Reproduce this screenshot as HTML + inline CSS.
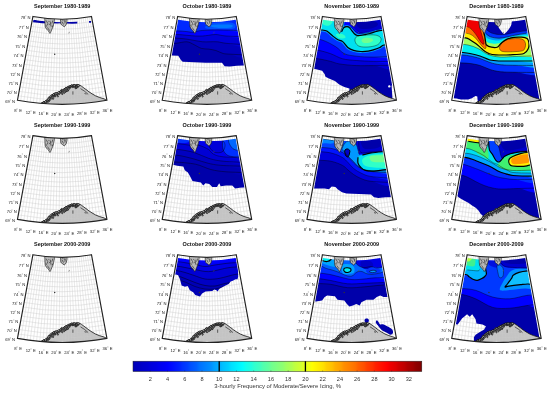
<!DOCTYPE html><html><head><meta charset="utf-8"><style>html,body{margin:0;padding:0;background:#fff;width:550px;height:394px;overflow:hidden}svg{display:block}text{font-family:"Liberation Sans",Arial,sans-serif}</style></head><body>
<svg width="550" height="394" viewBox="0 0 550 394">
<defs><clipPath id="fc"><path d="M32.92,16.52 A161.4 161.4 0 0 0 91.48,16.52 L106.92,100.21 A246.51 246.51 0 0 1 17.48,100.21 Z"/></clipPath><clipPath id="dc"><path d="M33.42,19.69 A164.43 164.43 0 0 0 90.98,19.69 L105.34,100.5 A246.51 246.51 0 0 1 19.06,100.5 Z"/></clipPath>
<g id="grd"><path d="M34.99,16.89L20.64,100.78M37.07,17.23L23.81,101.3M39.14,17.54L26.99,101.78M41.23,17.83L30.17,102.22M43.32,18.09L33.36,102.61M45.41,18.32L36.55,102.97M47.5,18.53L39.75,103.28M49.59,18.71L42.95,103.55M51.69,18.86L46.15,103.78M53.79,18.98L49.36,103.97M55.89,19.08L52.57,104.12M57.99,19.15L55.78,104.22M60.1,19.19L58.99,104.28M62.2,19.2L62.2,104.31M64.3,19.19L65.41,104.28M66.41,19.15L68.62,104.22M68.51,19.08L71.83,104.12M70.61,18.98L75.04,103.97M72.71,18.86L78.25,103.78M74.81,18.71L81.45,103.55M76.9,18.53L84.65,103.28M78.99,18.32L87.85,102.97M81.08,18.09L91.04,102.61M83.17,17.83L94.23,102.22M85.26,17.54L97.41,101.78M87.33,17.23L100.59,101.3M89.41,16.89L103.76,100.78M18.29,95.8A242.01 242.01 0 0 0 106.11,95.8M19.11,91.36A237.5 237.5 0 0 0 105.29,91.36M19.94,86.9A232.96 232.96 0 0 0 104.46,86.9M20.76,82.42A228.41 228.41 0 0 0 103.64,82.42M21.59,77.91A223.82 223.82 0 0 0 102.81,77.91M22.43,73.38A219.21 219.21 0 0 0 101.97,73.38M23.27,68.82A214.58 214.58 0 0 0 101.13,68.82M24.12,64.23A209.91 209.91 0 0 0 100.28,64.23M24.97,59.62A205.22 205.22 0 0 0 99.43,59.62M25.83,54.97A200.5 200.5 0 0 0 98.57,54.97M26.69,50.29A195.74 195.74 0 0 0 97.71,50.29M27.56,45.58A190.95 190.95 0 0 0 96.84,45.58M28.43,40.84A186.13 186.13 0 0 0 95.97,40.84M29.31,36.06A181.27 181.27 0 0 0 95.09,36.06M30.2,31.24A176.36 176.36 0 0 0 94.2,31.24M31.1,26.38A171.42 171.42 0 0 0 93.3,26.38M32.01,21.47A166.43 166.43 0 0 0 92.39,21.47" fill="none" stroke="#cbcbcb" stroke-width="0.42"/></g>
<g id="landf"><path d="M44.6,17 44.85,20.5 45,24 45.3,27 46.5,29 48.2,30.7 49.3,32.3 49.95,33.4 50.6,32.5 51.1,31.3 52,29 52.9,27 53.5,24.5 54.1,22 54.4,20.5 54.5,17Z" fill="#b2b2b2"/><path d="M60.5,17 60.55,21.3 60.9,24.2 62.7,25.6 64.15,26.8 64.9,26.4 66.3,24.2 67.05,21.3 67.1,17Z" fill="#b2b2b2"/><path d="M41.5,103.4 43.1,102.2 46,100.7 48.2,98.5 51.1,95.6 54,93.4 57.6,92.7 61.3,90.5 64.9,88.4 68.5,86.2 72.2,85 75.8,84.7 79.5,85 81.5,86.2 83.3,87.5 86,89.5 89,91.8 92,93.8 95.5,95.8 99.3,97.4 103,98.5 105.7,99.5 107.5,100.2 102,101.07 96.5,101.91 91,102.62 85.5,103.2 80,103.66 74.5,104 69,104.21 63.5,104.3 58,104.27 52.5,104.11 47,103.84 41.5,103.43Z" fill="#c4c4c4"/></g>
<clipPath id="lc"><path d="M44.6,17 44.85,20.5 45,24 45.3,27 46.5,29 48.2,30.7 49.3,32.3 49.95,33.4 50.6,32.5 51.1,31.3 52,29 52.9,27 53.5,24.5 54.1,22 54.4,20.5 54.5,17Z"/><path d="M60.5,17 60.55,21.3 60.9,24.2 62.7,25.6 64.15,26.8 64.9,26.4 66.3,24.2 67.05,21.3 67.1,17Z"/><path d="M41.5,103.4 43.1,102.2 46,100.7 48.2,98.5 51.1,95.6 54,93.4 57.6,92.7 61.3,90.5 64.9,88.4 68.5,86.2 72.2,85 75.8,84.7 79.5,85 81.5,86.2 83.3,87.5 86,89.5 89,91.8 92,93.8 95.5,95.8 99.3,97.4 103,98.5 105.7,99.5 107.5,100.2 102,101.07 96.5,101.91 91,102.62 85.5,103.2 80,103.66 74.5,104 69,104.21 63.5,104.3 58,104.27 52.5,104.11 47,103.84 41.5,103.43Z"/></clipPath>
<g id="coast" fill="none" stroke="#111" stroke-linejoin="round"><path d="M44.6,17 44.85,20.5 45,24 45.3,27 46.5,29 48.2,30.7 49.3,32.3 49.95,33.4 50.6,32.5 51.1,31.3 52,29 52.9,27 53.5,24.5 54.1,22 54.4,20.5 54.5,17" stroke-width="0.6"/><path d="M60.5,17 60.55,21.3 60.9,24.2 62.7,25.6 64.15,26.8 64.9,26.4 66.3,24.2 67.05,21.3 67.1,17" stroke-width="0.6"/><path d="M41.5,103.4 43.1,102.2 46,100.7 48.2,98.5 51.1,95.6 54,93.4 57.6,92.7 61.3,90.5 64.9,88.4 68.5,86.2 72.2,85 75.8,84.7 79.5,85 81.5,86.2 83.3,87.5 86,89.5 89,91.8 92,93.8 95.5,95.8 99.3,97.4 103,98.5 105.7,99.5 107.5,100.2" stroke-width="0.8"/><g stroke-width="0.75" stroke="#0a0a0a" fill="#d2d2d2"><ellipse cx="42.3" cy="103.25" rx="1.12" ry="0.75" transform="rotate(14 42.3 103.25)"/><ellipse cx="43.27" cy="104.18" rx="0.6" ry="0.59" transform="rotate(15 43.27 104.18)"/><ellipse cx="44.56" cy="105.34" rx="0.73" ry="0.54" transform="rotate(56 44.56 105.34)"/><ellipse cx="43.73" cy="102.2" rx="0.91" ry="0.72" transform="rotate(174 43.73 102.2)"/><ellipse cx="44.62" cy="103.56" rx="0.72" ry="0.42" transform="rotate(15 44.62 103.56)"/><ellipse cx="45.3" cy="104.73" rx="0.87" ry="0.53" transform="rotate(63 45.3 104.73)"/><ellipse cx="45.7" cy="101.78" rx="1.11" ry="0.95" transform="rotate(114 45.7 101.78)"/><ellipse cx="46.21" cy="103.02" rx="0.8" ry="0.45" transform="rotate(125 46.21 103.02)"/><ellipse cx="47.4" cy="100.77" rx="1.26" ry="0.74" transform="rotate(89 47.4 100.77)"/><ellipse cx="48.2" cy="101.53" rx="0.88" ry="0.57" transform="rotate(170 48.2 101.53)"/><ellipse cx="48.34" cy="99.59" rx="1.07" ry="0.89" transform="rotate(171 48.34 99.59)"/><ellipse cx="49.27" cy="100.58" rx="0.7" ry="0.48" transform="rotate(73 49.27 100.58)"/><ellipse cx="48.96" cy="98.15" rx="1.07" ry="0.82" transform="rotate(35 48.96 98.15)"/><ellipse cx="50.36" cy="99.27" rx="0.64" ry="0.71" transform="rotate(59 50.36 99.27)"/><ellipse cx="50.71" cy="96.67" rx="1.14" ry="0.71" transform="rotate(1 50.71 96.67)"/><ellipse cx="51.59" cy="97.68" rx="0.55" ry="0.7" transform="rotate(158 51.59 97.68)"/><ellipse cx="53.09" cy="98.67" rx="0.77" ry="0.6" transform="rotate(101 53.09 98.67)"/><ellipse cx="51.84" cy="95.53" rx="0.88" ry="0.68" transform="rotate(41 51.84 95.53)"/><ellipse cx="53.06" cy="96.61" rx="0.71" ry="0.73" transform="rotate(157 53.06 96.61)"/><ellipse cx="53.58" cy="94.62" rx="1.02" ry="0.75" transform="rotate(31 53.58 94.62)"/><ellipse cx="54.4" cy="95.46" rx="0.62" ry="0.45" transform="rotate(87 54.4 95.46)"/><ellipse cx="54.92" cy="96.43" rx="0.88" ry="0.53" transform="rotate(176 54.92 96.43)"/><ellipse cx="55.41" cy="93.88" rx="1.28" ry="0.88" transform="rotate(66 55.41 93.88)"/><ellipse cx="55.09" cy="95.33" rx="0.72" ry="0.58" transform="rotate(162 55.09 95.33)"/><ellipse cx="57.1" cy="93.67" rx="1.26" ry="0.9" transform="rotate(58 57.1 93.67)"/><ellipse cx="57.45" cy="94.74" rx="0.82" ry="0.57" transform="rotate(49 57.45 94.74)"/><ellipse cx="57.73" cy="96.18" rx="0.88" ry="0.53" transform="rotate(56 57.73 96.18)"/><ellipse cx="58.74" cy="92.54" rx="1.34" ry="0.84" transform="rotate(0 58.74 92.54)"/><ellipse cx="59.21" cy="93.86" rx="0.76" ry="0.72" transform="rotate(51 59.21 93.86)"/><ellipse cx="60.87" cy="91.47" rx="1.34" ry="0.76" transform="rotate(102 60.87 91.47)"/><ellipse cx="61.61" cy="92.47" rx="0.51" ry="0.61" transform="rotate(119 61.61 92.47)"/><ellipse cx="62.23" cy="93.96" rx="0.64" ry="0.59" transform="rotate(33 62.23 93.96)"/><ellipse cx="62.09" cy="90.33" rx="1.22" ry="0.66" transform="rotate(49 62.09 90.33)"/><ellipse cx="62.9" cy="91.47" rx="0.6" ry="0.61" transform="rotate(66 62.9 91.47)"/><ellipse cx="64.15" cy="92.78" rx="0.76" ry="0.69" transform="rotate(132 64.15 92.78)"/><ellipse cx="64.33" cy="89.45" rx="1.11" ry="0.61" transform="rotate(112 64.33 89.45)"/><ellipse cx="64.71" cy="90.62" rx="0.56" ry="0.62" transform="rotate(30 64.71 90.62)"/><ellipse cx="65.81" cy="91.63" rx="0.54" ry="0.6" transform="rotate(63 65.81 91.63)"/><ellipse cx="66.02" cy="88.27" rx="0.86" ry="0.96" transform="rotate(16 66.02 88.27)"/><ellipse cx="66.84" cy="89.53" rx="0.78" ry="0.56" transform="rotate(136 66.84 89.53)"/><ellipse cx="67.72" cy="90.51" rx="0.87" ry="0.72" transform="rotate(51 67.72 90.51)"/><ellipse cx="67.98" cy="87.45" rx="0.89" ry="0.7" transform="rotate(18 67.98 87.45)"/><ellipse cx="68.75" cy="88.27" rx="0.88" ry="0.63" transform="rotate(93 68.75 88.27)"/><ellipse cx="70.05" cy="86.7" rx="1.05" ry="0.79" transform="rotate(170 70.05 86.7)"/><ellipse cx="69.96" cy="87.51" rx="0.64" ry="0.47" transform="rotate(81 69.96 87.51)"/><ellipse cx="71.62" cy="85.85" rx="1.04" ry="0.81" transform="rotate(75 71.62 85.85)"/><ellipse cx="72.01" cy="86.86" rx="0.89" ry="0.44" transform="rotate(67 72.01 86.86)"/><ellipse cx="73.43" cy="85.78" rx="1.27" ry="0.87" transform="rotate(66 73.43 85.78)"/><ellipse cx="73.26" cy="86.84" rx="0.63" ry="0.5" transform="rotate(176 73.26 86.84)"/><ellipse cx="74.64" cy="85.62" rx="0.98" ry="0.84" transform="rotate(56 74.64 85.62)"/><ellipse cx="74.95" cy="86.89" rx="0.72" ry="0.72" transform="rotate(68 74.95 86.89)"/><ellipse cx="75.55" cy="88.13" rx="0.6" ry="0.46" transform="rotate(79 75.55 88.13)"/><ellipse cx="76.62" cy="85.49" rx="1.19" ry="0.71" transform="rotate(4 76.62 85.49)"/><ellipse cx="76.6" cy="86.39" rx="0.89" ry="0.58" transform="rotate(62 76.6 86.39)"/><ellipse cx="76.47" cy="87.82" rx="0.83" ry="0.54" transform="rotate(129 76.47 87.82)"/><ellipse cx="78.29" cy="85.48" rx="1.29" ry="0.89" transform="rotate(35 78.29 85.48)"/><ellipse cx="78.13" cy="86.73" rx="0.53" ry="0.66" transform="rotate(65 78.13 86.73)"/></g><path d="M46.2,20.5L47.8,23.5L47,25.5M50.3,21.5L51,26.5M47.5,27.5L49.5,30.5M52.8,20.5L51.8,23.5M62,21.5L63.5,24.5M65.3,20.5L64.8,23.5M48.5,21l1,1M45.8,25.5l1.2,1M49,25l1,-1.5M53,25.5l-1,1.5M61.5,19.5l1.5,0.8M64,20l0.5,1.5" stroke-width="0.6" stroke="#222"/><path d="M64.9,92.7L68,90.5L70.7,88.4M72.9,91.3L72.9,94.6M76.5,88L78,87.6M80.5,88.6L84.5,91.2L88.2,94.4M60,93.5l1.5,-0.8M56.5,95.5l1.2,-1M84.5,93.5l2,0.6" stroke-width="0.6"/><circle cx="54.7" cy="54.3" r="0.75" fill="#333" stroke="none"/><path d="M68.8,33.4L69.5,31.8" stroke="#555" stroke-width="0.6"/></g>
</defs>
<g transform="translate(0,0)">
<text x="62.2" y="7.7" text-anchor="middle" font-size="5.5" font-weight="bold" fill="#111">September 1980-1989</text>
<g clip-path="url(#fc)">
<use href="#grd"/>
<g clip-path="url(#dc)"><path d="M33,19.8 38,20.3 42,20.8 45.5,20.6 45.5,23.2 42,23.3 38,22.8 33,22.3Z" fill="#0000a8"/><path d="M53,21 57,21.2 61,21.5 61,23.3 57,23.5 53,23.2Z" fill="#0000a8"/><path d="M66.5,21.3 72,21.2 77.3,21 77.3,23.5 72,23.8 66.5,23.6Z" fill="#0000a8"/><path d="M89,21 91.2,21 91.2,22.8 89,22.8Z" fill="#0000a8"/></g>
<use href="#landf"/>
<g clip-path="url(#lc)"><use href="#grd"/></g>
<use href="#coast"/>
</g>
<path d="M32.92,16.52 A161.4 161.4 0 0 0 91.48,16.52 L106.92,100.21 A246.51 246.51 0 0 1 17.48,100.21 Z" fill="none" stroke="#222" stroke-width="1.15"/>
<g font-size="3.9" fill="#1a1a1a"><text x="15.08" y="102.61" text-anchor="end" font-size="4.15">69<tspan dy="-1.1" font-size="2.7">°</tspan><tspan dy="1.1"> N</tspan></text><text x="16.71" y="93.76" text-anchor="end" font-size="4.15">70<tspan dy="-1.1" font-size="2.7">°</tspan><tspan dy="1.1"> N</tspan></text><text x="18.36" y="84.82" text-anchor="end" font-size="4.15">71<tspan dy="-1.1" font-size="2.7">°</tspan><tspan dy="1.1"> N</tspan></text><text x="20.03" y="75.78" text-anchor="end" font-size="4.15">72<tspan dy="-1.1" font-size="2.7">°</tspan><tspan dy="1.1"> N</tspan></text><text x="21.72" y="66.63" text-anchor="end" font-size="4.15">73<tspan dy="-1.1" font-size="2.7">°</tspan><tspan dy="1.1"> N</tspan></text><text x="23.43" y="57.37" text-anchor="end" font-size="4.15">74<tspan dy="-1.1" font-size="2.7">°</tspan><tspan dy="1.1"> N</tspan></text><text x="25.16" y="47.98" text-anchor="end" font-size="4.15">75<tspan dy="-1.1" font-size="2.7">°</tspan><tspan dy="1.1"> N</tspan></text><text x="26.91" y="38.46" text-anchor="end" font-size="4.15">76<tspan dy="-1.1" font-size="2.7">°</tspan><tspan dy="1.1"> N</tspan></text><text x="28.7" y="28.78" text-anchor="end" font-size="4.15">77<tspan dy="-1.1" font-size="2.7">°</tspan><tspan dy="1.1"> N</tspan></text><text x="30.52" y="18.92" text-anchor="end" font-size="4.15">78<tspan dy="-1.1" font-size="2.7">°</tspan><tspan dy="1.1"> N</tspan></text><text x="18.08" y="112.01" text-anchor="middle" font-size="4.2">8<tspan dy="-1.2" font-size="2.8">°</tspan><tspan dy="1.2" dx="0.3"> E</tspan></text><text x="30.77" y="114.02" text-anchor="middle" font-size="4.2">12<tspan dy="-1.2" font-size="2.8">°</tspan><tspan dy="1.2" dx="0.3"> E</tspan></text><text x="43.55" y="115.35" text-anchor="middle" font-size="4.2">16<tspan dy="-1.2" font-size="2.8">°</tspan><tspan dy="1.2" dx="0.3"> E</tspan></text><text x="56.38" y="116.02" text-anchor="middle" font-size="4.2">20<tspan dy="-1.2" font-size="2.8">°</tspan><tspan dy="1.2" dx="0.3"> E</tspan></text><text x="69.22" y="116.02" text-anchor="middle" font-size="4.2">24<tspan dy="-1.2" font-size="2.8">°</tspan><tspan dy="1.2" dx="0.3"> E</tspan></text><text x="82.05" y="115.35" text-anchor="middle" font-size="4.2">28<tspan dy="-1.2" font-size="2.8">°</tspan><tspan dy="1.2" dx="0.3"> E</tspan></text><text x="94.83" y="114.02" text-anchor="middle" font-size="4.2">32<tspan dy="-1.2" font-size="2.8">°</tspan><tspan dy="1.2" dx="0.3"> E</tspan></text><text x="107.52" y="112.01" text-anchor="middle" font-size="4.2">36<tspan dy="-1.2" font-size="2.8">°</tspan><tspan dy="1.2" dx="0.3"> E</tspan></text></g>
</g>
<g transform="translate(144.75,0)">
<text x="62.2" y="7.7" text-anchor="middle" font-size="5.5" font-weight="bold" fill="#111">October 1980-1989</text>
<g clip-path="url(#fc)">
<use href="#grd"/>
<mask id="m01" maskUnits="userSpaceOnUse" x="-50" y="-50" width="200" height="200"><rect x="-50" y="-50" width="200" height="200" fill="#fff"/><path d="M15.25,55.4 27.45,55.4 33.55,55.7 36.15,60.1 37.95,61.8 50.15,62.3 60.65,62.7 77.25,62.7 79.85,66.2 85.05,66.5 92.05,65.8 105.25,65.3 105.25,120 15.25,120Z" fill="#000"/></mask><g clip-path="url(#dc)"><g mask="url(#m01)"><path d="M15.25,10C31.92,-8.33 98.58,-8.33 115.25,10C131.92,28.33 131.92,101.67 115.25,120C98.58,138.33 31.92,138.33 15.25,120C-1.42,101.67 -1.42,28.33 15.25,10Z" fill="#0000aa"/><path d="M20.25,43.3C22.07,48.02 27.52,43.55 31.15,43.3C34.78,43.05 39.02,41.57 42.05,41.8C45.08,42.03 46.92,43.6 49.35,44.7C51.78,45.8 54.23,47.67 56.65,48.4C59.07,49.13 61.43,48.75 63.85,49.1C66.27,49.45 68.72,49.77 71.15,50.5C73.58,51.23 76.02,52.88 78.45,53.5C80.88,54.12 82.12,53.97 85.75,54.2C89.38,54.43 97.83,61.43 100.25,54.9C102.67,48.37 113.58,21.65 100.25,15C86.92,8.35 33.58,10.28 20.25,15C6.92,19.72 18.43,38.58 20.25,43.3Z" fill="#0000bc"/><path d="M20.25,38C22.18,41.87 28.45,38.05 31.85,38.2C35.25,38.35 37.73,38.53 40.65,38.9C43.57,39.27 46.45,39.92 49.35,40.4C52.25,40.88 55.38,41.57 58.05,41.8C60.72,42.03 62.92,41.8 65.35,41.8C67.78,41.8 69.98,41.55 72.65,41.8C75.32,42.05 76.75,42.82 81.35,43.3C85.95,43.78 97.1,49.42 100.25,44.7C103.4,39.98 113.58,19.95 100.25,15C86.92,10.05 33.58,11.17 20.25,15C6.92,18.83 18.32,34.13 20.25,38Z" fill="#0000d8"/><path d="M20.25,34.5C22.32,37.75 29.02,34.37 32.65,34.5C36.28,34.63 39.03,35.05 42.05,35.3C45.07,35.55 48.08,35.88 50.75,36C53.42,36.12 55.87,36.12 58.05,36C60.23,35.88 61.67,35.55 63.85,35.3C66.03,35.05 68.23,34.38 71.15,34.5C74.07,34.62 76.5,35.63 81.35,36C86.2,36.37 97.1,40.2 100.25,36.7C103.4,33.2 113.58,18.62 100.25,15C86.92,11.38 33.58,11.75 20.25,15C6.92,18.25 18.18,31.25 20.25,34.5Z" fill="#0000ff"/><path d="M20.25,30.9C22.32,33.55 29.02,30.78 32.65,30.9C36.28,31.02 39.27,31.35 42.05,31.6C44.83,31.85 47.4,32.52 49.35,32.4C51.3,32.28 51.57,31.27 53.75,30.9C55.93,30.53 59.55,30.37 62.45,30.2C65.35,30.03 68,29.9 71.15,29.9C74.3,29.9 76.5,30.1 81.35,30.2C86.2,30.3 97.1,33.03 100.25,30.5C103.4,27.97 113.58,17.58 100.25,15C86.92,12.42 33.58,12.35 20.25,15C6.92,17.65 18.18,28.25 20.25,30.9Z" fill="#0028ff"/><path d="M60.25,27.5C60.08,26.67 62.08,24.83 64.25,24C66.42,23.17 69.75,22.75 73.25,22.5C76.75,22.25 82.42,22.17 85.25,22.5C88.08,22.83 89.58,23.5 90.25,24.5C90.92,25.5 91.42,27.75 89.25,28.5C87.08,29.25 81.25,28.92 77.25,29C73.25,29.08 68.08,29.25 65.25,29C62.42,28.75 60.42,28.33 60.25,27.5Z" fill="#0050ff"/><path d="M66.25,26.5C65.25,25.97 67.08,25.15 69.25,24.8C71.42,24.45 76.25,24.37 79.25,24.4C82.25,24.43 86.08,24.48 87.25,25C88.42,25.52 88.25,27 86.25,27.5C84.25,28 78.58,28.17 75.25,28C71.92,27.83 67.25,27.03 66.25,26.5Z" fill="#0078ff"/><path d="M20.25,30.9C22.32,30.9 29.02,30.78 32.65,30.9C36.28,31.02 39.27,31.35 42.05,31.6C44.83,31.85 47.4,32.52 49.35,32.4C51.3,32.28 51.57,31.27 53.75,30.9C55.93,30.53 59.55,30.37 62.45,30.2C65.35,30.03 68,29.9 71.15,29.9C74.3,29.9 76.5,30.1 81.35,30.2C86.2,30.3 97.1,30.45 100.25,30.5" fill="none" stroke="#000" stroke-width="0.4" stroke-linejoin="round"/><path d="M20.25,34.5C22.32,34.5 29.02,34.37 32.65,34.5C36.28,34.63 39.03,35.05 42.05,35.3C45.07,35.55 48.08,35.88 50.75,36C53.42,36.12 55.87,36.12 58.05,36C60.23,35.88 61.67,35.55 63.85,35.3C66.03,35.05 68.23,34.38 71.15,34.5C74.07,34.62 76.5,35.63 81.35,36C86.2,36.37 97.1,36.58 100.25,36.7" fill="none" stroke="#000" stroke-width="0.4" stroke-linejoin="round"/><path d="M20.25,38C22.18,38.03 28.45,38.05 31.85,38.2C35.25,38.35 37.73,38.53 40.65,38.9C43.57,39.27 46.45,39.92 49.35,40.4C52.25,40.88 55.38,41.57 58.05,41.8C60.72,42.03 62.92,41.8 65.35,41.8C67.78,41.8 69.98,41.55 72.65,41.8C75.32,42.05 76.75,42.82 81.35,43.3C85.95,43.78 97.1,44.47 100.25,44.7" fill="none" stroke="#000" stroke-width="0.4" stroke-linejoin="round"/><path d="M20.25,43.3C22.07,43.3 27.52,43.55 31.15,43.3C34.78,43.05 39.02,41.57 42.05,41.8C45.08,42.03 46.92,43.6 49.35,44.7C51.78,45.8 54.23,47.67 56.65,48.4C59.07,49.13 61.43,48.75 63.85,49.1C66.27,49.45 68.72,49.77 71.15,50.5C73.58,51.23 76.02,52.88 78.45,53.5C80.88,54.12 82.12,53.97 85.75,54.2C89.38,54.43 97.83,54.78 100.25,54.9" fill="none" stroke="#000" stroke-width="0.4" stroke-linejoin="round"/></g></g>
<use href="#landf"/>
<g clip-path="url(#lc)"><use href="#grd"/></g>
<use href="#coast"/>
</g>
<path d="M32.92,16.52 A161.4 161.4 0 0 0 91.48,16.52 L106.92,100.21 A246.51 246.51 0 0 1 17.48,100.21 Z" fill="none" stroke="#222" stroke-width="1.15"/>
<g font-size="3.9" fill="#1a1a1a"><text x="15.08" y="102.61" text-anchor="end" font-size="4.15">69<tspan dy="-1.1" font-size="2.7">°</tspan><tspan dy="1.1"> N</tspan></text><text x="16.71" y="93.76" text-anchor="end" font-size="4.15">70<tspan dy="-1.1" font-size="2.7">°</tspan><tspan dy="1.1"> N</tspan></text><text x="18.36" y="84.82" text-anchor="end" font-size="4.15">71<tspan dy="-1.1" font-size="2.7">°</tspan><tspan dy="1.1"> N</tspan></text><text x="20.03" y="75.78" text-anchor="end" font-size="4.15">72<tspan dy="-1.1" font-size="2.7">°</tspan><tspan dy="1.1"> N</tspan></text><text x="21.72" y="66.63" text-anchor="end" font-size="4.15">73<tspan dy="-1.1" font-size="2.7">°</tspan><tspan dy="1.1"> N</tspan></text><text x="23.43" y="57.37" text-anchor="end" font-size="4.15">74<tspan dy="-1.1" font-size="2.7">°</tspan><tspan dy="1.1"> N</tspan></text><text x="25.16" y="47.98" text-anchor="end" font-size="4.15">75<tspan dy="-1.1" font-size="2.7">°</tspan><tspan dy="1.1"> N</tspan></text><text x="26.91" y="38.46" text-anchor="end" font-size="4.15">76<tspan dy="-1.1" font-size="2.7">°</tspan><tspan dy="1.1"> N</tspan></text><text x="28.7" y="28.78" text-anchor="end" font-size="4.15">77<tspan dy="-1.1" font-size="2.7">°</tspan><tspan dy="1.1"> N</tspan></text><text x="30.52" y="18.92" text-anchor="end" font-size="4.15">78<tspan dy="-1.1" font-size="2.7">°</tspan><tspan dy="1.1"> N</tspan></text><text x="18.08" y="112.01" text-anchor="middle" font-size="4.2">8<tspan dy="-1.2" font-size="2.8">°</tspan><tspan dy="1.2" dx="0.3"> E</tspan></text><text x="30.77" y="114.02" text-anchor="middle" font-size="4.2">12<tspan dy="-1.2" font-size="2.8">°</tspan><tspan dy="1.2" dx="0.3"> E</tspan></text><text x="43.55" y="115.35" text-anchor="middle" font-size="4.2">16<tspan dy="-1.2" font-size="2.8">°</tspan><tspan dy="1.2" dx="0.3"> E</tspan></text><text x="56.38" y="116.02" text-anchor="middle" font-size="4.2">20<tspan dy="-1.2" font-size="2.8">°</tspan><tspan dy="1.2" dx="0.3"> E</tspan></text><text x="69.22" y="116.02" text-anchor="middle" font-size="4.2">24<tspan dy="-1.2" font-size="2.8">°</tspan><tspan dy="1.2" dx="0.3"> E</tspan></text><text x="82.05" y="115.35" text-anchor="middle" font-size="4.2">28<tspan dy="-1.2" font-size="2.8">°</tspan><tspan dy="1.2" dx="0.3"> E</tspan></text><text x="94.83" y="114.02" text-anchor="middle" font-size="4.2">32<tspan dy="-1.2" font-size="2.8">°</tspan><tspan dy="1.2" dx="0.3"> E</tspan></text><text x="107.52" y="112.01" text-anchor="middle" font-size="4.2">36<tspan dy="-1.2" font-size="2.8">°</tspan><tspan dy="1.2" dx="0.3"> E</tspan></text></g>
</g>
<g transform="translate(289.5,0)">
<text x="62.2" y="7.7" text-anchor="middle" font-size="5.5" font-weight="bold" fill="#111">November 1980-1989</text>
<g clip-path="url(#fc)">
<use href="#grd"/>
<mask id="m02" maskUnits="userSpaceOnUse" x="-50" y="-50" width="200" height="200"><rect x="-50" y="-50" width="200" height="200" fill="#fff"/><path d="M10.5,67.5 25.8,69.1 32.6,70.8 35.2,74.2 36,76.8 39.4,78.5 45.4,81 49.7,84.4 54.8,87 59.9,88.5 59.5,110 10.5,110Z" fill="#000"/><path d="M101.05,86.4 100.81,87.13 100.19,87.59 99.41,87.59 98.79,87.13 98.55,86.4 98.79,85.67 99.41,85.21 100.19,85.21 100.81,85.67Z" fill="#000"/><path d="M102.1,85.5 104.5,85.5 106.5,101 103,99.5Z" fill="#000"/></mask><g clip-path="url(#dc)"><g mask="url(#m02)"><path d="M0.5,10C20.5,-8.33 100.5,-8.33 120.5,10C140.5,28.33 140.5,101.67 120.5,120C100.5,138.33 20.5,138.33 0.5,120C-19.5,101.67 -19.5,28.33 0.5,10Z" fill="#0000aa"/><path d="M15.5,58.5C17.63,65.8 24.03,58.32 28.3,58.8C32.57,59.28 37.53,60.55 41.1,61.4C44.67,62.25 45.42,63.2 49.7,63.9C53.98,64.6 61.1,65.32 66.8,65.6C72.5,65.88 77.45,65.6 83.9,65.6C90.35,65.6 101.9,74.03 105.5,65.6C109.1,57.17 120.5,23.43 105.5,15C90.5,6.57 30.5,7.75 15.5,15C0.5,22.25 13.37,51.2 15.5,58.5Z" fill="#0000d8"/><path d="M15.5,50C17.63,55.88 24.03,49.68 28.3,50.3C32.57,50.92 36.97,52.28 41.1,53.7C45.23,55.12 48.82,57.67 53.1,58.8C57.38,59.93 61.67,60.07 66.8,60.5C71.93,60.93 77.45,61.25 83.9,61.4C90.35,61.55 101.9,66.8 105.5,61.4C109.1,56 107.97,34.38 105.5,29C103.03,23.62 94.27,28.9 90.7,29.1C87.13,29.3 86.28,29.83 84.1,30.2C81.92,30.57 79.78,30.93 77.6,31.3C75.42,31.67 72.63,32.58 71,32.4C69.37,32.22 68.62,31.3 67.8,30.2C66.98,29.1 66.4,28.33 66.1,25.8C65.8,23.27 74.43,16.8 66,15C57.57,13.2 23.92,9.17 15.5,15C7.08,20.83 13.37,44.12 15.5,50Z" fill="#0000ff"/><path d="M15.5,37C18.33,41.17 27.37,38.37 32.5,40C37.63,41.63 42.58,44.52 46.3,46.8C50.02,49.08 51.38,52.13 54.8,53.7C58.22,55.27 61.95,55.63 66.8,56.2C71.65,56.77 77.45,57.1 83.9,57.1C90.35,57.1 101.9,60.63 105.5,56.2C109.1,51.77 107.83,34.78 105.5,30.5C103.17,26.22 95.07,30.3 91.5,30.5C87.93,30.7 86.43,31.32 84.1,31.7C81.77,32.08 79.68,32.45 77.5,32.8C75.32,33.15 72.83,33.93 71,33.8C69.17,33.67 67.92,32.97 66.5,32C65.08,31.03 64,28.92 62.5,28C61,27.08 59,26.58 57.5,26.5C56,26.42 54.17,29.42 53.5,27.5C52.83,25.58 59.83,17.08 53.5,15C47.17,12.92 21.83,11.33 15.5,15C9.17,18.67 12.67,32.83 15.5,37Z" fill="#0030ff"/><path d="M15.5,29.5C18.4,32 29.15,29.67 32.9,30C36.65,30.33 36.32,30.53 38,31.5C39.68,32.47 41.32,34.47 43,35.8C44.68,37.13 46.4,38.53 48.1,39.5C49.8,40.47 51.5,40.27 53.2,41.6C54.9,42.93 56.48,46.03 58.3,47.5C60.12,48.97 61.92,49.73 64.1,50.4C66.28,51.07 68.97,51.38 71.4,51.5C73.83,51.62 76.52,51.42 78.7,51.1C80.88,50.78 82.57,50.2 84.5,49.6C86.43,49 88.63,48.27 90.3,47.5C91.97,46.73 91.97,45.58 94.5,45C97.03,44.42 103.67,46.42 105.5,44C107.33,41.58 107.78,32.75 105.5,30.5C103.22,28.25 94.97,30.33 91.8,30.5C88.63,30.67 88.38,31 86.5,31.5C84.62,32 82.17,33.03 80.5,33.5C78.83,33.97 78.12,33.97 76.5,34.3C74.88,34.63 72.25,35.3 70.8,35.5C69.35,35.7 68.8,35.8 67.8,35.5C66.8,35.2 65.72,34.52 64.8,33.7C63.88,32.88 63.12,31.62 62.3,30.6C61.48,29.58 60.7,28.25 59.9,27.6C59.1,26.95 58.42,26.7 57.5,26.7C56.58,26.7 55.32,26.75 54.4,27.6C53.48,28.45 52.65,33.9 52,31.8C51.35,29.7 56.58,17.8 50.5,15C44.42,12.2 21.33,12.58 15.5,15C9.67,17.42 12.6,27 15.5,29.5Z" fill="none" stroke="#00a8ff" stroke-width="3"/><path d="M15.5,29.5C18.4,32 29.15,29.67 32.9,30C36.65,30.33 36.32,30.53 38,31.5C39.68,32.47 41.32,34.47 43,35.8C44.68,37.13 46.4,38.53 48.1,39.5C49.8,40.47 51.5,40.27 53.2,41.6C54.9,42.93 56.48,46.03 58.3,47.5C60.12,48.97 61.92,49.73 64.1,50.4C66.28,51.07 68.97,51.38 71.4,51.5C73.83,51.62 76.52,51.42 78.7,51.1C80.88,50.78 82.57,50.2 84.5,49.6C86.43,49 88.63,48.27 90.3,47.5C91.97,46.73 91.97,45.58 94.5,45C97.03,44.42 103.67,46.42 105.5,44C107.33,41.58 107.78,32.75 105.5,30.5C103.22,28.25 94.97,30.33 91.8,30.5C88.63,30.67 88.38,31 86.5,31.5C84.62,32 82.17,33.03 80.5,33.5C78.83,33.97 78.12,33.97 76.5,34.3C74.88,34.63 72.25,35.3 70.8,35.5C69.35,35.7 68.8,35.8 67.8,35.5C66.8,35.2 65.72,34.52 64.8,33.7C63.88,32.88 63.12,31.62 62.3,30.6C61.48,29.58 60.7,28.25 59.9,27.6C59.1,26.95 58.42,26.7 57.5,26.7C56.58,26.7 55.32,26.75 54.4,27.6C53.48,28.45 52.65,33.9 52,31.8C51.35,29.7 56.58,17.8 50.5,15C44.42,12.2 21.33,12.58 15.5,15C9.67,17.42 12.6,27 15.5,29.5Z" fill="#00e0f0"/><path d="M65.5,39C65.83,37.72 67,36.43 68.5,35.8C70,35.17 72.17,35.37 74.5,35.2C76.83,35.03 80.17,34.7 82.5,34.8C84.83,34.9 87,35.18 88.5,35.8C90,36.42 91.17,37.38 91.5,38.5C91.83,39.62 91.33,41.33 90.5,42.5C89.67,43.67 88.5,44.75 86.5,45.5C84.5,46.25 81.17,46.83 78.5,47C75.83,47.17 72.5,47.08 70.5,46.5C68.5,45.92 67.33,44.75 66.5,43.5C65.67,42.25 65.17,40.28 65.5,39Z" fill="#30ffc8"/><path d="M72,40.5C71.83,39.75 72.58,38.95 73.5,38.5C74.42,38.05 76,37.8 77.5,37.8C79,37.8 81.5,38.05 82.5,38.5C83.5,38.95 83.83,39.83 83.5,40.5C83.17,41.17 82,42.08 80.5,42.5C79,42.92 75.92,43.33 74.5,43C73.08,42.67 72.17,41.25 72,40.5Z" fill="#70ff90"/><path d="M46.5,34.5C46.83,33.83 49.17,33.42 50.5,33.5C51.83,33.58 53.58,34.33 54.5,35C55.42,35.67 56.33,36.92 56,37.5C55.67,38.08 53.75,38.5 52.5,38.5C51.25,38.5 49.5,38.17 48.5,37.5C47.5,36.83 46.17,35.17 46.5,34.5Z" fill="#30ffc8"/><path d="M32.5,18C34,17.33 39.75,17.33 41.5,18C43.25,18.67 43.33,20.75 43,22C42.67,23.25 40.92,25 39.5,25.5C38.08,26 35.67,25.58 34.5,25C33.33,24.42 32.83,23.17 32.5,22C32.17,20.83 31,18.67 32.5,18Z" fill="#30ffc8"/><path d="M15.5,58.5C17.63,58.55 24.03,58.32 28.3,58.8C32.57,59.28 37.53,60.55 41.1,61.4C44.67,62.25 45.42,63.2 49.7,63.9C53.98,64.6 61.1,65.32 66.8,65.6C72.5,65.88 77.45,65.6 83.9,65.6C90.35,65.6 101.9,65.6 105.5,65.6" fill="none" stroke="#000" stroke-width="0.4" stroke-linejoin="round"/><path d="M15.5,50C17.63,50.05 24.03,49.68 28.3,50.3C32.57,50.92 36.97,52.28 41.1,53.7C45.23,55.12 48.82,57.67 53.1,58.8C57.38,59.93 61.67,60.07 66.8,60.5C71.93,60.93 77.45,61.25 83.9,61.4C90.35,61.55 101.9,61.4 105.5,61.4" fill="none" stroke="#000" stroke-width="0.4" stroke-linejoin="round"/><path d="M15.5,37C18.33,37.5 27.37,38.37 32.5,40C37.63,41.63 42.58,44.52 46.3,46.8C50.02,49.08 51.38,52.13 54.8,53.7C58.22,55.27 61.95,55.63 66.8,56.2C71.65,56.77 77.45,57.1 83.9,57.1C90.35,57.1 101.9,56.35 105.5,56.2" fill="none" stroke="#000" stroke-width="0.4" stroke-linejoin="round"/><path d="M66.1,25.8C66.38,26.53 66.98,29.1 67.8,30.2C68.62,31.3 69.37,32.22 71,32.4C72.63,32.58 75.42,31.67 77.6,31.3C79.78,30.93 81.92,30.57 84.1,30.2C86.28,29.83 89.6,29.28 90.7,29.1" fill="none" stroke="#000" stroke-width="0.4" stroke-linejoin="round"/><path d="M53.5,27.5C54.17,27.33 56,26.42 57.5,26.5C59,26.58 61,27.08 62.5,28C64,28.92 65.08,31.03 66.5,32C67.92,32.97 69.17,33.67 71,33.8C72.83,33.93 75.32,33.15 77.5,32.8C79.68,32.45 81.77,32.08 84.1,31.7C86.43,31.32 90.27,30.7 91.5,30.5" fill="none" stroke="#000" stroke-width="0.4" stroke-linejoin="round"/><path d="M15.5,29.5C18.4,29.58 29.15,29.67 32.9,30C36.65,30.33 36.32,30.53 38,31.5C39.68,32.47 41.32,34.47 43,35.8C44.68,37.13 46.4,38.53 48.1,39.5C49.8,40.47 51.5,40.27 53.2,41.6C54.9,42.93 56.48,46.03 58.3,47.5C60.12,48.97 61.92,49.73 64.1,50.4C66.28,51.07 68.97,51.38 71.4,51.5C73.83,51.62 76.52,51.42 78.7,51.1C80.88,50.78 82.57,50.2 84.5,49.6C86.43,49 88.63,48.27 90.3,47.5C91.97,46.73 91.97,45.58 94.5,45C97.03,44.42 103.67,46.42 105.5,44C107.33,41.58 107.78,32.75 105.5,30.5C103.22,28.25 94.97,30.33 91.8,30.5C88.63,30.67 88.38,31 86.5,31.5C84.62,32 82.17,33.03 80.5,33.5C78.83,33.97 78.12,33.97 76.5,34.3C74.88,34.63 72.25,35.3 70.8,35.5C69.35,35.7 68.8,35.8 67.8,35.5C66.8,35.2 65.72,34.52 64.8,33.7C63.88,32.88 63.12,31.62 62.3,30.6C61.48,29.58 60.7,28.25 59.9,27.6C59.1,26.95 58.42,26.7 57.5,26.7C56.58,26.7 55.32,26.75 54.4,27.6C53.48,28.45 52.4,31.1 52,31.8" fill="none" stroke="#000" stroke-width="1.2" stroke-linejoin="round"/><path d="M65.5,39C65.83,37.72 67,36.43 68.5,35.8C70,35.17 72.17,35.37 74.5,35.2C76.83,35.03 80.17,34.7 82.5,34.8C84.83,34.9 87,35.18 88.5,35.8C90,36.42 91.17,37.38 91.5,38.5C91.83,39.62 91.33,41.33 90.5,42.5C89.67,43.67 88.5,44.75 86.5,45.5C84.5,46.25 81.17,46.83 78.5,47C75.83,47.17 72.5,47.08 70.5,46.5C68.5,45.92 67.33,44.75 66.5,43.5C65.67,42.25 65.17,40.28 65.5,39Z" fill="none" stroke="#000" stroke-width="0.4" stroke-linejoin="round"/><path d="M62.5,15C55.33,16.17 62.25,20.08 62.5,22C62.75,23.92 63.33,25.17 64,26.5C64.67,27.83 65.42,29.05 66.5,30C67.58,30.95 68.83,31.93 70.5,32.2C72.17,32.47 74.23,31.9 76.5,31.6C78.77,31.3 81.73,30.78 84.1,30.4C86.47,30.02 87.13,29.5 90.7,29.3C94.27,29.1 103.03,31.58 105.5,29.2C107.97,26.82 112.67,17.37 105.5,15C98.33,12.63 69.67,13.83 62.5,15Z" fill="#0000cc"/><path d="M67,21C68.33,19.92 73.58,20.5 76.5,20.5C79.42,20.5 82.5,20.33 84.5,21C86.5,21.67 88.67,23.33 88.5,24.5C88.33,25.67 86,27.25 83.5,28C81,28.75 76,29.17 73.5,29C71,28.83 69.58,28.33 68.5,27C67.42,25.67 65.67,22.08 67,21Z" fill="#0000aa"/></g></g>
<use href="#landf"/>
<g clip-path="url(#lc)"><use href="#grd"/></g>
<use href="#coast"/>
</g>
<path d="M32.92,16.52 A161.4 161.4 0 0 0 91.48,16.52 L106.92,100.21 A246.51 246.51 0 0 1 17.48,100.21 Z" fill="none" stroke="#222" stroke-width="1.15"/>
<g font-size="3.9" fill="#1a1a1a"><text x="15.08" y="102.61" text-anchor="end" font-size="4.15">69<tspan dy="-1.1" font-size="2.7">°</tspan><tspan dy="1.1"> N</tspan></text><text x="16.71" y="93.76" text-anchor="end" font-size="4.15">70<tspan dy="-1.1" font-size="2.7">°</tspan><tspan dy="1.1"> N</tspan></text><text x="18.36" y="84.82" text-anchor="end" font-size="4.15">71<tspan dy="-1.1" font-size="2.7">°</tspan><tspan dy="1.1"> N</tspan></text><text x="20.03" y="75.78" text-anchor="end" font-size="4.15">72<tspan dy="-1.1" font-size="2.7">°</tspan><tspan dy="1.1"> N</tspan></text><text x="21.72" y="66.63" text-anchor="end" font-size="4.15">73<tspan dy="-1.1" font-size="2.7">°</tspan><tspan dy="1.1"> N</tspan></text><text x="23.43" y="57.37" text-anchor="end" font-size="4.15">74<tspan dy="-1.1" font-size="2.7">°</tspan><tspan dy="1.1"> N</tspan></text><text x="25.16" y="47.98" text-anchor="end" font-size="4.15">75<tspan dy="-1.1" font-size="2.7">°</tspan><tspan dy="1.1"> N</tspan></text><text x="26.91" y="38.46" text-anchor="end" font-size="4.15">76<tspan dy="-1.1" font-size="2.7">°</tspan><tspan dy="1.1"> N</tspan></text><text x="28.7" y="28.78" text-anchor="end" font-size="4.15">77<tspan dy="-1.1" font-size="2.7">°</tspan><tspan dy="1.1"> N</tspan></text><text x="30.52" y="18.92" text-anchor="end" font-size="4.15">78<tspan dy="-1.1" font-size="2.7">°</tspan><tspan dy="1.1"> N</tspan></text><text x="18.08" y="112.01" text-anchor="middle" font-size="4.2">8<tspan dy="-1.2" font-size="2.8">°</tspan><tspan dy="1.2" dx="0.3"> E</tspan></text><text x="30.77" y="114.02" text-anchor="middle" font-size="4.2">12<tspan dy="-1.2" font-size="2.8">°</tspan><tspan dy="1.2" dx="0.3"> E</tspan></text><text x="43.55" y="115.35" text-anchor="middle" font-size="4.2">16<tspan dy="-1.2" font-size="2.8">°</tspan><tspan dy="1.2" dx="0.3"> E</tspan></text><text x="56.38" y="116.02" text-anchor="middle" font-size="4.2">20<tspan dy="-1.2" font-size="2.8">°</tspan><tspan dy="1.2" dx="0.3"> E</tspan></text><text x="69.22" y="116.02" text-anchor="middle" font-size="4.2">24<tspan dy="-1.2" font-size="2.8">°</tspan><tspan dy="1.2" dx="0.3"> E</tspan></text><text x="82.05" y="115.35" text-anchor="middle" font-size="4.2">28<tspan dy="-1.2" font-size="2.8">°</tspan><tspan dy="1.2" dx="0.3"> E</tspan></text><text x="94.83" y="114.02" text-anchor="middle" font-size="4.2">32<tspan dy="-1.2" font-size="2.8">°</tspan><tspan dy="1.2" dx="0.3"> E</tspan></text><text x="107.52" y="112.01" text-anchor="middle" font-size="4.2">36<tspan dy="-1.2" font-size="2.8">°</tspan><tspan dy="1.2" dx="0.3"> E</tspan></text></g>
</g>
<g transform="translate(434.25,0)">
<text x="62.2" y="7.7" text-anchor="middle" font-size="5.5" font-weight="bold" fill="#111">December 1980-1989</text>
<g clip-path="url(#fc)">
<use href="#grd"/>
<mask id="m03" maskUnits="userSpaceOnUse" x="-50" y="-50" width="200" height="200"><rect x="-50" y="-50" width="200" height="200" fill="#fff"/><path d="M61.75,15C59.2,15.83 61.83,18.5 62.05,20C62.27,21.5 62.68,22.78 63.05,24C63.42,25.22 63.67,26.22 64.25,27.3C64.83,28.38 65.83,29.55 66.55,30.5C67.27,31.45 67.97,32.43 68.55,33C69.13,33.57 69.52,33.97 70.05,33.9C70.58,33.83 71.13,33.22 71.75,32.6C72.37,31.98 73,31.22 73.75,30.2C74.5,29.18 75.65,27.7 76.25,26.5C76.85,25.3 77.17,24.92 77.35,23C77.53,21.08 79.95,16.33 77.35,15C74.75,13.67 64.3,14.17 61.75,15Z" fill="#000"/><path d="M15.75,98 22.15,98.6 26.65,99.5 33.95,99.5 37.55,98.2 41.25,95.9 43.05,96.4 43.45,100.5 44.75,103 44.75,110 15.75,110Z" fill="#000"/></mask><g clip-path="url(#dc)"><g mask="url(#m03)"><path d="M5.75,10 125.75,10 125.75,120 5.75,120Z" fill="#0000aa"/><path d="M20.75,62.5C22.92,62.83 26.25,62.83 28.75,63C31.25,63.17 32.92,63.08 35.75,63.5C38.58,63.92 42.42,64.5 45.75,65.5C49.08,66.5 52.42,68.47 55.75,69.5C59.08,70.53 61.58,71.23 65.75,71.7C69.92,72.17 73.25,72.17 80.75,72.3C88.25,72.43 105.75,79.42 110.75,72.5C115.75,65.58 113.85,37.75 110.75,30.8C107.65,23.85 97.13,30.55 92.15,30.8C87.17,31.05 84.15,31.73 80.85,32.3C77.55,32.87 75.03,33.82 72.35,34.2C69.67,34.58 67.27,34.8 64.75,34.6C62.23,34.4 59.3,33.8 57.25,33C55.2,32.2 53.62,31.13 52.45,29.8C51.28,28.47 50.78,27.47 50.25,25C49.72,22.53 55,16.67 49.25,15C43.5,13.33 21.33,7.33 15.75,15C10.17,22.67 14.92,53.08 15.75,61C16.58,68.92 18.58,62.17 20.75,62.5Z" fill="#0030ff"/><path d="M20.75,54.5C22.92,55.33 26.25,54.75 28.75,55C31.25,55.25 32.92,55.42 35.75,56C38.58,56.58 42.42,57.42 45.75,58.5C49.08,59.58 52.42,61.47 55.75,62.5C59.08,63.53 61.58,64.23 65.75,64.7C69.92,65.17 73.25,65.17 80.75,65.3C88.25,65.43 105.75,70.85 110.75,65.5C115.75,60.15 113.85,38.58 110.75,33.2C107.65,27.82 97.13,32.88 92.15,33.2C87.17,33.52 84.15,34.47 80.85,35.1C77.55,35.73 75.03,36.48 72.35,37C69.67,37.52 67.43,38.23 64.75,38.2C62.07,38.17 58.5,37.63 56.25,36.8C54,35.97 52.42,35.17 51.25,33.2C50.08,31.23 49.67,28.03 49.25,25C48.83,21.97 54.33,16.67 48.75,15C43.17,13.33 21.25,9.17 15.75,15C10.25,20.83 14.92,43.42 15.75,50C16.58,56.58 18.58,53.67 20.75,54.5Z" fill="#0098ff"/><path d="M20.75,52C22.92,52.75 26.25,52.25 28.75,52.5C31.25,52.75 32.92,52.92 35.75,53.5C38.58,54.08 42.42,54.92 45.75,56C49.08,57.08 52.42,59.17 55.75,60C59.08,60.83 61.58,60.83 65.75,61C69.92,61.17 73.25,61.02 80.75,61C88.25,60.98 105.75,65.27 110.75,60.9C115.75,56.53 113.85,39.15 110.75,34.8C107.65,30.45 97.45,34.52 92.15,34.8C86.85,35.08 82.57,35.87 78.95,36.5C75.33,37.13 72.82,37.93 70.45,38.6C68.08,39.27 66.95,40.3 64.75,40.5C62.55,40.7 59.45,40.47 57.25,39.8C55.05,39.13 52.88,38.97 51.55,36.5C50.22,34.03 49.72,28.58 49.25,25C48.78,21.42 54.33,16.67 48.75,15C43.17,13.33 21.25,9.5 15.75,15C10.25,20.5 14.92,41.83 15.75,48C16.58,54.17 18.58,51.25 20.75,52Z" fill="#00f0f0"/><path d="M20.75,43.9C23.75,44.23 29.92,44.23 33.75,45C37.58,45.77 40.42,46.92 43.75,48.5C47.08,50.08 50.08,53.08 53.75,54.5C57.42,55.92 61.25,56.67 65.75,57C70.25,57.33 73.25,56.75 80.75,56.5C88.25,56.25 105.75,58.78 110.75,55.5C115.75,52.22 113.85,39.97 110.75,36.8C107.65,33.63 96.35,36.53 92.15,36.5C87.95,36.47 88.22,36.42 85.55,36.6C82.88,36.78 78.83,36.98 76.15,37.6C73.47,38.22 71.35,39.35 69.45,40.3C67.55,41.25 66.63,42.75 64.75,43.3C62.87,43.85 60.2,43.9 58.15,43.6C56.1,43.3 53.77,43.1 52.45,41.5C51.13,39.9 50.87,36.75 50.25,34C49.63,31.25 49.08,28.17 48.75,25C48.42,21.83 53.75,16.67 48.25,15C42.75,13.33 21.17,10.33 15.75,15C10.33,19.67 14.92,38.18 15.75,43C16.58,47.82 17.75,43.57 20.75,43.9Z" fill="#a0ff60"/><path d="M20.75,37.5C22.53,41.32 28.9,37.5 31.45,37.9C34,38.3 34.43,39 36.05,39.9C37.67,40.8 39.53,42.1 41.15,43.3C42.77,44.5 44.23,45.8 45.75,47.1C47.27,48.4 48.82,50.05 50.25,51.1C51.68,52.15 52.48,52.78 54.35,53.4C56.22,54.02 57.8,54.57 61.45,54.8C65.1,55.03 71.55,55.02 76.25,54.8C80.95,54.58 86.68,54.55 89.65,53.5C92.62,52.45 93.23,50.38 94.05,48.5C94.87,46.62 94.77,43.85 94.55,42.2C94.33,40.55 93.93,39.43 92.75,38.6C91.57,37.77 89.6,37.4 87.45,37.2C85.3,37 82.37,37.03 79.85,37.4C77.33,37.77 74.55,38.38 72.35,39.4C70.15,40.42 68.23,42.2 66.65,43.5C65.07,44.8 64.42,46.58 62.85,47.2C61.28,47.82 59.02,47.57 57.25,47.2C55.48,46.83 53.23,45.95 52.25,45C51.27,44.05 51.63,42.93 51.35,41.5C51.07,40.07 50.88,38.1 50.55,36.4C50.22,34.7 49.73,32.83 49.35,31.3C48.97,29.77 48.6,28.73 48.25,27.2C47.9,25.67 47.5,24.13 47.25,22.1C47,20.07 51.17,16.18 46.75,15C42.33,13.82 25.08,11.25 20.75,15C16.42,18.75 18.97,33.68 20.75,37.5Z" fill="#ffee00"/><path d="M20.75,33.3C22.65,36.35 29.6,33.13 32.15,33.3C34.7,33.47 34.73,33.7 36.05,34.3C37.37,34.9 38.78,35.8 40.05,36.9C41.32,38 42.53,39.55 43.65,40.9C44.77,42.25 45.73,43.8 46.75,45C47.77,46.2 49,47.5 49.75,48.1C50.5,48.7 50.9,48.87 51.25,48.6C51.6,48.33 51.9,47.68 51.85,46.5C51.8,45.32 51.23,43.18 50.95,41.5C50.67,39.82 50.48,38.1 50.15,36.4C49.82,34.7 49.35,33 48.95,31.3C48.55,29.6 48.2,27.9 47.75,26.2C47.3,24.5 46.58,22.97 46.25,21.1C45.92,19.23 50,16.02 45.75,15C41.5,13.98 24.92,11.95 20.75,15C16.58,18.05 18.85,30.25 20.75,33.3Z" fill="#ff7000"/><path d="M65.25,47.5C65.38,46.2 66.47,44.25 67.55,43C68.63,41.75 70.05,40.7 71.75,40C73.45,39.3 75.58,39.03 77.75,38.8C79.92,38.57 82.83,38.43 84.75,38.6C86.67,38.77 88.17,38.98 89.25,39.8C90.33,40.62 91,42.13 91.25,43.5C91.5,44.87 91.25,46.78 90.75,48C90.25,49.22 89.92,50.2 88.25,50.8C86.58,51.4 83.5,51.43 80.75,51.6C78,51.77 74.08,51.93 71.75,51.8C69.42,51.67 67.83,51.52 66.75,50.8C65.67,50.08 65.12,48.8 65.25,47.5Z" fill="#ff7000"/><path d="M20.75,19C24.68,17.67 40.28,17.97 44.35,19C48.42,20.03 44.83,23.32 45.15,25.2C45.47,27.08 45.82,28.62 46.25,30.3C46.68,31.98 47.25,33.62 47.75,35.3C48.25,36.98 48.92,38.95 49.25,40.4C49.58,41.85 50,43.48 49.75,44C49.5,44.52 48.52,44.18 47.75,43.5C46.98,42.82 46,41.17 45.15,39.9C44.3,38.63 43.58,37.25 42.65,35.9C41.72,34.55 40.65,33.08 39.55,31.8C38.45,30.52 37.12,29 36.05,28.2C34.98,27.4 35.7,27.2 33.15,27C30.6,26.8 22.82,28.33 20.75,27C18.68,25.67 16.82,20.33 20.75,19Z" fill="#f00000"/><path d="M20.75,62.5C22.08,62.58 26.25,62.83 28.75,63C31.25,63.17 32.92,63.08 35.75,63.5C38.58,63.92 42.42,64.5 45.75,65.5C49.08,66.5 52.42,68.47 55.75,69.5C59.08,70.53 61.58,71.23 65.75,71.7C69.92,72.17 73.25,72.17 80.75,72.3C88.25,72.43 105.75,72.47 110.75,72.5" fill="none" stroke="#000" stroke-width="0.5" stroke-linejoin="round"/><path d="M20.75,54.5C22.08,54.58 26.25,54.75 28.75,55C31.25,55.25 32.92,55.42 35.75,56C38.58,56.58 42.42,57.42 45.75,58.5C49.08,59.58 52.42,61.47 55.75,62.5C59.08,63.53 61.58,64.23 65.75,64.7C69.92,65.17 73.25,65.17 80.75,65.3C88.25,65.43 105.75,65.47 110.75,65.5" fill="none" stroke="#000" stroke-width="0.5" stroke-linejoin="round"/><path d="M20.75,52C22.08,52.08 26.25,52.25 28.75,52.5C31.25,52.75 32.92,52.92 35.75,53.5C38.58,54.08 42.42,54.92 45.75,56C49.08,57.08 52.42,59.17 55.75,60C59.08,60.83 61.58,60.83 65.75,61C69.92,61.17 73.25,61.02 80.75,61C88.25,60.98 105.75,60.92 110.75,60.9" fill="none" stroke="#000" stroke-width="1.1" stroke-linejoin="round"/><path d="M20.75,43.9C22.92,44.08 29.92,44.23 33.75,45C37.58,45.77 40.42,46.92 43.75,48.5C47.08,50.08 50.08,53.08 53.75,54.5C57.42,55.92 61.25,56.67 65.75,57C70.25,57.33 73.25,56.75 80.75,56.5C88.25,56.25 105.75,55.67 110.75,55.5" fill="none" stroke="#000" stroke-width="0.4" stroke-linejoin="round"/><path d="M20.75,37.5C22.53,37.57 28.9,37.5 31.45,37.9C34,38.3 34.43,39 36.05,39.9C37.67,40.8 39.53,42.1 41.15,43.3C42.77,44.5 44.23,45.8 45.75,47.1C47.27,48.4 48.82,50.05 50.25,51.1C51.68,52.15 52.48,52.78 54.35,53.4C56.22,54.02 57.8,54.57 61.45,54.8C65.1,55.03 71.55,55.02 76.25,54.8C80.95,54.58 86.68,54.55 89.65,53.5C92.62,52.45 93.23,50.38 94.05,48.5C94.87,46.62 94.77,43.85 94.55,42.2C94.33,40.55 93.93,39.43 92.75,38.6C91.57,37.77 89.6,37.4 87.45,37.2C85.3,37 82.37,37.03 79.85,37.4C77.33,37.77 74.55,38.38 72.35,39.4C70.15,40.42 68.23,42.2 66.65,43.5C65.07,44.8 64.42,46.58 62.85,47.2C61.28,47.82 59.02,47.57 57.25,47.2C55.48,46.83 53.23,45.95 52.25,45C51.27,44.05 51.63,42.93 51.35,41.5C51.07,40.07 50.88,38.1 50.55,36.4C50.22,34.7 49.73,32.83 49.35,31.3C48.97,29.77 48.6,28.73 48.25,27.2C47.9,25.67 47.42,22.95 47.25,22.1" fill="none" stroke="#000" stroke-width="1.2" stroke-linejoin="round"/><path d="M51.25,33.2C52.08,33.8 54,35.97 56.25,36.8C58.5,37.63 62.07,38.17 64.75,38.2C67.43,38.23 69.67,37.52 72.35,37C75.03,36.48 77.55,35.73 80.85,35.1C84.15,34.47 90.27,33.52 92.15,33.2" fill="none" stroke="#000" stroke-width="0.5" stroke-linejoin="round"/><path d="M52.45,29.8C53.25,30.33 55.2,32.2 57.25,33C59.3,33.8 62.23,34.4 64.75,34.6C67.27,34.8 69.67,34.58 72.35,34.2C75.03,33.82 77.55,32.87 80.85,32.3C84.15,31.73 90.27,31.05 92.15,30.8" fill="none" stroke="#000" stroke-width="0.4" stroke-linejoin="round"/><path d="M32.15,33.3C32.8,33.47 34.73,33.7 36.05,34.3C37.37,34.9 38.78,35.8 40.05,36.9C41.32,38 42.53,39.55 43.65,40.9C44.77,42.25 45.73,43.8 46.75,45C47.77,46.2 49,47.5 49.75,48.1C50.5,48.7 50.9,48.87 51.25,48.6C51.6,48.33 51.9,47.68 51.85,46.5C51.8,45.32 51.23,43.18 50.95,41.5C50.67,39.82 50.48,38.1 50.15,36.4C49.82,34.7 49.35,33 48.95,31.3C48.55,29.6 48.2,27.9 47.75,26.2C47.3,24.5 46.58,22.97 46.25,21.1C45.92,19.23 45.83,16.02 45.75,15" fill="none" stroke="#000" stroke-width="0.4" stroke-linejoin="round"/><path d="M65.25,47.5C65.38,46.2 66.47,44.25 67.55,43C68.63,41.75 70.05,40.7 71.75,40C73.45,39.3 75.58,39.03 77.75,38.8C79.92,38.57 82.83,38.43 84.75,38.6C86.67,38.77 88.17,38.98 89.25,39.8C90.33,40.62 91,42.13 91.25,43.5C91.5,44.87 91.25,46.78 90.75,48C90.25,49.22 89.92,50.2 88.25,50.8C86.58,51.4 83.5,51.43 80.75,51.6C78,51.77 74.08,51.93 71.75,51.8C69.42,51.67 67.83,51.52 66.75,50.8C65.67,50.08 65.12,48.8 65.25,47.5Z" fill="none" stroke="#000" stroke-width="0.4" stroke-linejoin="round"/><path d="M44.35,19C44.48,20.03 44.83,23.32 45.15,25.2C45.47,27.08 45.82,28.62 46.25,30.3C46.68,31.98 47.25,33.62 47.75,35.3C48.25,36.98 48.92,38.95 49.25,40.4C49.58,41.85 50,43.48 49.75,44C49.5,44.52 48.52,44.18 47.75,43.5C46.98,42.82 46,41.17 45.15,39.9C44.3,38.63 43.58,37.25 42.65,35.9C41.72,34.55 40.65,33.08 39.55,31.8C38.45,30.52 37.12,29 36.05,28.2C34.98,27.4 33.63,27.2 33.15,27" fill="none" stroke="#000" stroke-width="0.4" stroke-linejoin="round"/></g></g>
<use href="#landf"/>
<g clip-path="url(#lc)"><use href="#grd"/></g>
<use href="#coast"/>
</g>
<path d="M32.92,16.52 A161.4 161.4 0 0 0 91.48,16.52 L106.92,100.21 A246.51 246.51 0 0 1 17.48,100.21 Z" fill="none" stroke="#222" stroke-width="1.15"/>
<g font-size="3.9" fill="#1a1a1a"><text x="15.08" y="102.61" text-anchor="end" font-size="4.15">69<tspan dy="-1.1" font-size="2.7">°</tspan><tspan dy="1.1"> N</tspan></text><text x="16.71" y="93.76" text-anchor="end" font-size="4.15">70<tspan dy="-1.1" font-size="2.7">°</tspan><tspan dy="1.1"> N</tspan></text><text x="18.36" y="84.82" text-anchor="end" font-size="4.15">71<tspan dy="-1.1" font-size="2.7">°</tspan><tspan dy="1.1"> N</tspan></text><text x="20.03" y="75.78" text-anchor="end" font-size="4.15">72<tspan dy="-1.1" font-size="2.7">°</tspan><tspan dy="1.1"> N</tspan></text><text x="21.72" y="66.63" text-anchor="end" font-size="4.15">73<tspan dy="-1.1" font-size="2.7">°</tspan><tspan dy="1.1"> N</tspan></text><text x="23.43" y="57.37" text-anchor="end" font-size="4.15">74<tspan dy="-1.1" font-size="2.7">°</tspan><tspan dy="1.1"> N</tspan></text><text x="25.16" y="47.98" text-anchor="end" font-size="4.15">75<tspan dy="-1.1" font-size="2.7">°</tspan><tspan dy="1.1"> N</tspan></text><text x="26.91" y="38.46" text-anchor="end" font-size="4.15">76<tspan dy="-1.1" font-size="2.7">°</tspan><tspan dy="1.1"> N</tspan></text><text x="28.7" y="28.78" text-anchor="end" font-size="4.15">77<tspan dy="-1.1" font-size="2.7">°</tspan><tspan dy="1.1"> N</tspan></text><text x="30.52" y="18.92" text-anchor="end" font-size="4.15">78<tspan dy="-1.1" font-size="2.7">°</tspan><tspan dy="1.1"> N</tspan></text><text x="18.08" y="112.01" text-anchor="middle" font-size="4.2">8<tspan dy="-1.2" font-size="2.8">°</tspan><tspan dy="1.2" dx="0.3"> E</tspan></text><text x="30.77" y="114.02" text-anchor="middle" font-size="4.2">12<tspan dy="-1.2" font-size="2.8">°</tspan><tspan dy="1.2" dx="0.3"> E</tspan></text><text x="43.55" y="115.35" text-anchor="middle" font-size="4.2">16<tspan dy="-1.2" font-size="2.8">°</tspan><tspan dy="1.2" dx="0.3"> E</tspan></text><text x="56.38" y="116.02" text-anchor="middle" font-size="4.2">20<tspan dy="-1.2" font-size="2.8">°</tspan><tspan dy="1.2" dx="0.3"> E</tspan></text><text x="69.22" y="116.02" text-anchor="middle" font-size="4.2">24<tspan dy="-1.2" font-size="2.8">°</tspan><tspan dy="1.2" dx="0.3"> E</tspan></text><text x="82.05" y="115.35" text-anchor="middle" font-size="4.2">28<tspan dy="-1.2" font-size="2.8">°</tspan><tspan dy="1.2" dx="0.3"> E</tspan></text><text x="94.83" y="114.02" text-anchor="middle" font-size="4.2">32<tspan dy="-1.2" font-size="2.8">°</tspan><tspan dy="1.2" dx="0.3"> E</tspan></text><text x="107.52" y="112.01" text-anchor="middle" font-size="4.2">36<tspan dy="-1.2" font-size="2.8">°</tspan><tspan dy="1.2" dx="0.3"> E</tspan></text></g>
</g>
<g transform="translate(0,119.1)">
<text x="62.2" y="7.7" text-anchor="middle" font-size="5.5" font-weight="bold" fill="#111">September 1990-1999</text>
<g clip-path="url(#fc)">
<use href="#grd"/>

<use href="#landf"/>
<g clip-path="url(#lc)"><use href="#grd"/></g>
<use href="#coast"/>
</g>
<path d="M32.92,16.52 A161.4 161.4 0 0 0 91.48,16.52 L106.92,100.21 A246.51 246.51 0 0 1 17.48,100.21 Z" fill="none" stroke="#222" stroke-width="1.15"/>
<g font-size="3.9" fill="#1a1a1a"><text x="15.08" y="102.61" text-anchor="end" font-size="4.15">69<tspan dy="-1.1" font-size="2.7">°</tspan><tspan dy="1.1"> N</tspan></text><text x="16.71" y="93.76" text-anchor="end" font-size="4.15">70<tspan dy="-1.1" font-size="2.7">°</tspan><tspan dy="1.1"> N</tspan></text><text x="18.36" y="84.82" text-anchor="end" font-size="4.15">71<tspan dy="-1.1" font-size="2.7">°</tspan><tspan dy="1.1"> N</tspan></text><text x="20.03" y="75.78" text-anchor="end" font-size="4.15">72<tspan dy="-1.1" font-size="2.7">°</tspan><tspan dy="1.1"> N</tspan></text><text x="21.72" y="66.63" text-anchor="end" font-size="4.15">73<tspan dy="-1.1" font-size="2.7">°</tspan><tspan dy="1.1"> N</tspan></text><text x="23.43" y="57.37" text-anchor="end" font-size="4.15">74<tspan dy="-1.1" font-size="2.7">°</tspan><tspan dy="1.1"> N</tspan></text><text x="25.16" y="47.98" text-anchor="end" font-size="4.15">75<tspan dy="-1.1" font-size="2.7">°</tspan><tspan dy="1.1"> N</tspan></text><text x="26.91" y="38.46" text-anchor="end" font-size="4.15">76<tspan dy="-1.1" font-size="2.7">°</tspan><tspan dy="1.1"> N</tspan></text><text x="28.7" y="28.78" text-anchor="end" font-size="4.15">77<tspan dy="-1.1" font-size="2.7">°</tspan><tspan dy="1.1"> N</tspan></text><text x="30.52" y="18.92" text-anchor="end" font-size="4.15">78<tspan dy="-1.1" font-size="2.7">°</tspan><tspan dy="1.1"> N</tspan></text><text x="18.08" y="112.01" text-anchor="middle" font-size="4.2">8<tspan dy="-1.2" font-size="2.8">°</tspan><tspan dy="1.2" dx="0.3"> E</tspan></text><text x="30.77" y="114.02" text-anchor="middle" font-size="4.2">12<tspan dy="-1.2" font-size="2.8">°</tspan><tspan dy="1.2" dx="0.3"> E</tspan></text><text x="43.55" y="115.35" text-anchor="middle" font-size="4.2">16<tspan dy="-1.2" font-size="2.8">°</tspan><tspan dy="1.2" dx="0.3"> E</tspan></text><text x="56.38" y="116.02" text-anchor="middle" font-size="4.2">20<tspan dy="-1.2" font-size="2.8">°</tspan><tspan dy="1.2" dx="0.3"> E</tspan></text><text x="69.22" y="116.02" text-anchor="middle" font-size="4.2">24<tspan dy="-1.2" font-size="2.8">°</tspan><tspan dy="1.2" dx="0.3"> E</tspan></text><text x="82.05" y="115.35" text-anchor="middle" font-size="4.2">28<tspan dy="-1.2" font-size="2.8">°</tspan><tspan dy="1.2" dx="0.3"> E</tspan></text><text x="94.83" y="114.02" text-anchor="middle" font-size="4.2">32<tspan dy="-1.2" font-size="2.8">°</tspan><tspan dy="1.2" dx="0.3"> E</tspan></text><text x="107.52" y="112.01" text-anchor="middle" font-size="4.2">36<tspan dy="-1.2" font-size="2.8">°</tspan><tspan dy="1.2" dx="0.3"> E</tspan></text></g>
</g>
<g transform="translate(144.75,119.1)">
<text x="62.2" y="7.7" text-anchor="middle" font-size="5.5" font-weight="bold" fill="#111">October 1990-1999</text>
<g clip-path="url(#fc)">
<use href="#grd"/>
<mask id="m11" maskUnits="userSpaceOnUse" x="-50" y="-50" width="200" height="200"><rect x="-50" y="-50" width="200" height="200" fill="#fff"/><path d="M10.25,45.8 29.45,45.8 32.45,46.6 38.55,47.4 40.05,51.2 43.15,53.5 45.45,57.3 47.75,61.9 56.15,63.4 58.45,66.4 60.75,64.1 64.55,64.9 67.55,68 72.15,68 74.45,64.1 75.95,67.2 81.35,66.4 87.45,66.4 90.45,69.5 95.05,68.7 105.25,67.9 105.25,120.9 10.25,120.9Z" fill="#000"/></mask><g clip-path="url(#dc)"><g mask="url(#m11)"><path d="M15.25,5.9 115.25,5.9 115.25,120.9 15.25,120.9Z" fill="#0000aa"/><path d="M20.25,42.8C21.78,48.12 24.37,42.42 29.45,42.8C34.53,43.18 44.65,43.83 50.75,45.1C56.85,46.37 60.95,49.13 66.05,50.4C71.15,51.67 74.82,52.18 81.35,52.7C87.88,53.22 101.27,60.47 105.25,53.5C109.23,46.53 119.42,18 105.25,10.9C91.08,3.8 34.42,5.58 20.25,10.9C6.08,16.22 18.72,37.48 20.25,42.8Z" fill="#0000b4"/><path d="M20.25,36.3C22.43,40.53 28.5,35.7 33.35,36.3C38.2,36.9 44.27,38.57 49.35,39.9C54.43,41.23 59,43.22 63.85,44.3C68.7,45.38 71.55,45.92 78.45,46.4C85.35,46.88 100.78,53.12 105.25,47.2C109.72,41.28 119.42,16.95 105.25,10.9C91.08,4.85 34.42,6.67 20.25,10.9C6.08,15.13 18.07,32.07 20.25,36.3Z" fill="#0000c0"/><path d="M20.25,30.4C22.43,33.65 28.5,29.9 33.35,30.4C38.2,30.9 44.27,31.93 49.35,33.4C54.43,34.87 59,37.75 63.85,39.2C68.7,40.65 71.55,41.38 78.45,42.1C85.35,42.82 100.78,48.7 105.25,43.5C109.72,38.3 119.42,16.33 105.25,10.9C91.08,5.47 34.42,7.65 20.25,10.9C6.08,14.15 18.07,27.15 20.25,30.4Z" fill="#0000d4"/><path d="M20.25,24.6C22.43,26.88 29.23,24.35 33.35,24.6C37.47,24.85 41.55,25.85 44.95,26.1C48.35,26.35 50.6,25.38 53.75,26.1C56.9,26.82 61.43,28.95 63.85,30.4C66.27,31.85 65.82,33.58 68.25,34.8C70.68,36.02 72.28,36.97 78.45,37.7C84.62,38.43 100.78,43.67 105.25,39.2C109.72,34.73 119.42,15.62 105.25,10.9C91.08,6.18 34.42,8.62 20.25,10.9C6.08,13.18 18.07,22.32 20.25,24.6Z" fill="#0000ec"/><path d="M64.75,21.9C65.92,20.82 69,20.4 71.25,20.4C73.5,20.4 76.75,20.82 78.25,21.9C79.75,22.98 80.42,25.07 80.25,26.9C80.08,28.73 79.08,31.9 77.25,32.9C75.42,33.9 71.42,33.9 69.25,32.9C67.08,31.9 65,28.73 64.25,26.9C63.5,25.07 63.58,22.98 64.75,21.9Z" fill="#0000d8"/><path d="M105.25,16.9C100.92,13.4 83.83,15.9 79.25,16.9C74.67,17.9 77.92,20.73 77.75,22.9C77.58,25.07 77.67,27.9 78.25,29.9C78.83,31.9 79.75,33.65 81.25,34.9C82.75,36.15 83.25,36.9 87.25,37.4C91.25,37.9 102.25,41.32 105.25,37.9C108.25,34.48 109.58,20.4 105.25,16.9Z" fill="#0030ff"/><path d="M105.25,16.9C101.75,14.4 87.83,16.07 84.25,16.9C80.67,17.73 83.42,20.15 83.75,21.9C84.08,23.65 85,25.9 86.25,27.4C87.5,28.9 88.08,30.15 91.25,30.9C94.42,31.65 102.92,34.23 105.25,31.9C107.58,29.57 108.75,19.4 105.25,16.9Z" fill="#0068ff"/><path d="M20.25,16.9C24.58,15.82 42,16.07 46.25,16.9C50.5,17.73 46.75,20.73 45.75,21.9C44.75,23.07 42.33,23.6 40.25,23.9C38.17,24.2 36.58,23.78 33.25,23.7C29.92,23.62 22.42,24.53 20.25,23.4C18.08,22.27 15.92,17.98 20.25,16.9Z" fill="#0030ff"/><path d="M20.25,42.8C21.78,42.8 24.37,42.42 29.45,42.8C34.53,43.18 44.65,43.83 50.75,45.1C56.85,46.37 60.95,49.13 66.05,50.4C71.15,51.67 74.82,52.18 81.35,52.7C87.88,53.22 101.27,53.37 105.25,53.5" fill="none" stroke="#000" stroke-width="0.4" stroke-linejoin="round"/><path d="M20.25,24.6C22.43,24.6 29.23,24.35 33.35,24.6C37.47,24.85 41.55,25.85 44.95,26.1C48.35,26.35 50.6,25.38 53.75,26.1C56.9,26.82 61.43,28.95 63.85,30.4C66.27,31.85 65.82,33.58 68.25,34.8C70.68,36.02 72.28,36.97 78.45,37.7C84.62,38.43 100.78,38.95 105.25,39.2" fill="none" stroke="#000" stroke-width="0.4" stroke-linejoin="round"/><path d="M20.25,30.4C22.43,30.4 28.5,29.9 33.35,30.4C38.2,30.9 44.27,31.93 49.35,33.4C54.43,34.87 59,37.75 63.85,39.2C68.7,40.65 71.55,41.38 78.45,42.1C85.35,42.82 100.78,43.27 105.25,43.5" fill="none" stroke="#000" stroke-width="0.4" stroke-linejoin="round"/><path d="M20.25,36.3C22.43,36.3 28.5,35.7 33.35,36.3C38.2,36.9 44.27,38.57 49.35,39.9C54.43,41.23 59,43.22 63.85,44.3C68.7,45.38 71.55,45.92 78.45,46.4C85.35,46.88 100.78,47.07 105.25,47.2" fill="none" stroke="#000" stroke-width="0.4" stroke-linejoin="round"/><path d="M64.75,21.9C65.92,20.82 69,20.4 71.25,20.4C73.5,20.4 76.75,20.82 78.25,21.9C79.75,22.98 80.42,25.07 80.25,26.9C80.08,28.73 79.08,31.9 77.25,32.9C75.42,33.9 71.42,33.9 69.25,32.9C67.08,31.9 65,28.73 64.25,26.9C63.5,25.07 63.58,22.98 64.75,21.9Z" fill="none" stroke="#000" stroke-width="0.4" stroke-linejoin="round"/><path d="M79.25,16.9C79,17.9 77.92,20.73 77.75,22.9C77.58,25.07 77.67,27.9 78.25,29.9C78.83,31.9 79.75,33.65 81.25,34.9C82.75,36.15 83.25,36.9 87.25,37.4C91.25,37.9 102.25,37.82 105.25,37.9" fill="none" stroke="#000" stroke-width="0.4" stroke-linejoin="round"/><path d="M84.25,16.9C84.17,17.73 83.42,20.15 83.75,21.9C84.08,23.65 85,25.9 86.25,27.4C87.5,28.9 88.08,30.15 91.25,30.9C94.42,31.65 102.92,31.73 105.25,31.9" fill="none" stroke="#000" stroke-width="0.4" stroke-linejoin="round"/></g></g>
<use href="#landf"/>
<g clip-path="url(#lc)"><use href="#grd"/></g>
<use href="#coast"/>
</g>
<path d="M32.92,16.52 A161.4 161.4 0 0 0 91.48,16.52 L106.92,100.21 A246.51 246.51 0 0 1 17.48,100.21 Z" fill="none" stroke="#222" stroke-width="1.15"/>
<g font-size="3.9" fill="#1a1a1a"><text x="15.08" y="102.61" text-anchor="end" font-size="4.15">69<tspan dy="-1.1" font-size="2.7">°</tspan><tspan dy="1.1"> N</tspan></text><text x="16.71" y="93.76" text-anchor="end" font-size="4.15">70<tspan dy="-1.1" font-size="2.7">°</tspan><tspan dy="1.1"> N</tspan></text><text x="18.36" y="84.82" text-anchor="end" font-size="4.15">71<tspan dy="-1.1" font-size="2.7">°</tspan><tspan dy="1.1"> N</tspan></text><text x="20.03" y="75.78" text-anchor="end" font-size="4.15">72<tspan dy="-1.1" font-size="2.7">°</tspan><tspan dy="1.1"> N</tspan></text><text x="21.72" y="66.63" text-anchor="end" font-size="4.15">73<tspan dy="-1.1" font-size="2.7">°</tspan><tspan dy="1.1"> N</tspan></text><text x="23.43" y="57.37" text-anchor="end" font-size="4.15">74<tspan dy="-1.1" font-size="2.7">°</tspan><tspan dy="1.1"> N</tspan></text><text x="25.16" y="47.98" text-anchor="end" font-size="4.15">75<tspan dy="-1.1" font-size="2.7">°</tspan><tspan dy="1.1"> N</tspan></text><text x="26.91" y="38.46" text-anchor="end" font-size="4.15">76<tspan dy="-1.1" font-size="2.7">°</tspan><tspan dy="1.1"> N</tspan></text><text x="28.7" y="28.78" text-anchor="end" font-size="4.15">77<tspan dy="-1.1" font-size="2.7">°</tspan><tspan dy="1.1"> N</tspan></text><text x="30.52" y="18.92" text-anchor="end" font-size="4.15">78<tspan dy="-1.1" font-size="2.7">°</tspan><tspan dy="1.1"> N</tspan></text><text x="18.08" y="112.01" text-anchor="middle" font-size="4.2">8<tspan dy="-1.2" font-size="2.8">°</tspan><tspan dy="1.2" dx="0.3"> E</tspan></text><text x="30.77" y="114.02" text-anchor="middle" font-size="4.2">12<tspan dy="-1.2" font-size="2.8">°</tspan><tspan dy="1.2" dx="0.3"> E</tspan></text><text x="43.55" y="115.35" text-anchor="middle" font-size="4.2">16<tspan dy="-1.2" font-size="2.8">°</tspan><tspan dy="1.2" dx="0.3"> E</tspan></text><text x="56.38" y="116.02" text-anchor="middle" font-size="4.2">20<tspan dy="-1.2" font-size="2.8">°</tspan><tspan dy="1.2" dx="0.3"> E</tspan></text><text x="69.22" y="116.02" text-anchor="middle" font-size="4.2">24<tspan dy="-1.2" font-size="2.8">°</tspan><tspan dy="1.2" dx="0.3"> E</tspan></text><text x="82.05" y="115.35" text-anchor="middle" font-size="4.2">28<tspan dy="-1.2" font-size="2.8">°</tspan><tspan dy="1.2" dx="0.3"> E</tspan></text><text x="94.83" y="114.02" text-anchor="middle" font-size="4.2">32<tspan dy="-1.2" font-size="2.8">°</tspan><tspan dy="1.2" dx="0.3"> E</tspan></text><text x="107.52" y="112.01" text-anchor="middle" font-size="4.2">36<tspan dy="-1.2" font-size="2.8">°</tspan><tspan dy="1.2" dx="0.3"> E</tspan></text></g>
</g>
<g transform="translate(289.5,119.1)">
<text x="62.2" y="7.7" text-anchor="middle" font-size="5.5" font-weight="bold" fill="#111">November 1990-1999</text>
<g clip-path="url(#fc)">
<use href="#grd"/>
<mask id="m12" maskUnits="userSpaceOnUse" x="-50" y="-50" width="200" height="200"><rect x="-50" y="-50" width="200" height="200" fill="#fff"/><path d="M10.5,69.4 26.3,69.4 35,69.4 39.4,70.2 42.3,67.3 46,68 48.1,70.2 52.5,73.1 56.9,74.5 81.6,75.3 84.5,78.2 88.9,78.9 96.1,78.2 105.5,77.9 105.5,120.9 10.5,120.9Z" fill="#000"/></mask><g clip-path="url(#dc)"><g mask="url(#m12)"><path d="M10.5,5.9 110.5,5.9 110.5,120.9 10.5,120.9Z" fill="#0000aa"/><path d="M15.5,41.1C18.33,46.17 28,41.08 32.5,41.3C37,41.52 39.08,41.57 42.5,42.4C45.92,43.23 50.33,44.88 53,46.3C55.67,47.72 56.65,49.38 58.5,50.9C60.35,52.42 61.95,53.98 64.1,55.4C66.25,56.82 68.48,58.27 71.4,59.4C74.32,60.53 75.92,61.5 81.6,62.2C87.28,62.9 101.52,72.15 105.5,63.6C109.48,55.05 120.5,19.68 105.5,10.9C90.5,2.12 30.5,5.87 15.5,10.9C0.5,15.93 12.67,36.03 15.5,41.1Z" fill="#0000dc"/><path d="M15.5,32.4C18.33,36.03 27.83,32.37 32.5,32.7C37.17,33.03 40.08,33.45 43.5,34.4C46.92,35.35 50.5,36.9 53,38.4C55.5,39.9 56.65,41.57 58.5,43.4C60.35,45.23 61.95,47.65 64.1,49.4C66.25,51.15 68.48,52.57 71.4,53.9C74.32,55.23 75.92,56.48 81.6,57.4C87.28,58.32 101.52,63.52 105.5,59.4C109.48,55.28 107.78,37.15 105.5,32.7C103.22,28.25 95.3,32.63 91.8,32.7C88.3,32.77 87.17,32.87 84.5,33.1C81.83,33.33 78.47,33.8 75.8,34.1C73.13,34.4 70.2,35.27 68.5,34.9C66.8,34.53 66.33,33.22 65.6,31.9C64.87,30.58 64.1,28.55 64.1,27C64.1,25.45 65.03,25.28 65.6,22.6C66.17,19.92 75.85,12.85 67.5,10.9C59.15,8.95 24.17,7.32 15.5,10.9C6.83,14.48 12.67,28.77 15.5,32.4Z" fill="#0014ff"/><path d="M15.5,27.9C18.33,30.82 27.83,28.1 32.5,28.4C37.17,28.7 40.08,28.87 43.5,29.7C46.92,30.53 50.5,32.03 53,33.4C55.5,34.77 56.65,36.15 58.5,37.9C60.35,39.65 61.95,41.98 64.1,43.9C66.25,45.82 68.48,47.98 71.4,49.4C74.32,50.82 75.92,51.65 81.6,52.4C87.28,53.15 101.52,57.1 105.5,53.9C109.48,50.7 107.78,36.65 105.5,33.2C103.22,29.75 95.3,33.12 91.8,33.2C88.3,33.28 87.17,33.45 84.5,33.7C81.83,33.95 78.47,34.4 75.8,34.7C73.13,35 70.33,35.88 68.5,35.5C66.67,35.12 65.67,33.82 64.8,32.4C63.93,30.98 63.3,28.63 63.3,27C63.3,25.37 64.27,25.28 64.8,22.6C65.33,19.92 74.72,12.85 66.5,10.9C58.28,8.95 24,8.07 15.5,10.9C7,13.73 12.67,24.98 15.5,27.9Z" fill="#0044ff"/><path d="M52.5,29.9C52.42,30.98 53.03,30.77 54,31.9C54.97,33.03 56.62,34.93 58.3,36.7C59.98,38.47 62.15,40.55 64.1,42.5C66.05,44.45 67.57,46.93 70,48.4C72.43,49.87 72.78,50.7 78.7,51.3C84.62,51.9 101.03,54.93 105.5,52C109.97,49.07 107.78,36.75 105.5,33.7C103.22,30.65 95.3,33.62 91.8,33.7C88.3,33.78 87.17,33.95 84.5,34.2C81.83,34.45 78.22,34.95 75.8,35.2C73.38,35.45 71.22,36.42 70,35.7C68.78,34.98 69,32.53 68.5,30.9C68,29.27 67.73,27.15 67,25.9C66.27,24.65 65.18,24.02 64.1,23.4C63.02,22.78 61.68,22.32 60.5,22.2C59.32,22.08 58,22.17 57,22.7C56,23.23 55.25,24.2 54.5,25.4C53.75,26.6 52.58,28.82 52.5,29.9Z" fill="#0098ff"/><path d="M28.5,15.9C31.33,14.57 42.67,14.9 45.5,15.9C48.33,16.9 46,20.48 45.5,21.9C45,23.32 44,24.02 42.5,24.4C41,24.78 38.83,24.28 36.5,24.2C34.17,24.12 29.83,25.28 28.5,23.9C27.17,22.52 25.67,17.23 28.5,15.9Z" fill="#0088ff"/><path d="M68.5,38.2C67.77,39.53 68.02,42.3 68.5,44C68.98,45.7 70.18,47.18 71.4,48.4C72.62,49.62 73.62,50.7 75.8,51.3C77.98,51.9 81.12,52.13 84.5,52C87.88,51.87 92.6,50.77 96.1,50.5C99.6,50.23 103.93,53.42 105.5,50.4C107.07,47.38 107.07,35.4 105.5,32.4C103.93,29.4 100.08,32.17 96.1,32.4C92.12,32.63 85.47,33.2 81.6,33.8C77.73,34.4 75.08,35.27 72.9,36C70.72,36.73 69.23,36.87 68.5,38.2Z" fill="#00e0f0"/><path d="M72.5,41.4C72.5,40.2 73.5,39.48 74.5,38.7C75.5,37.92 76.67,37.25 78.5,36.7C80.33,36.15 82.67,35.7 85.5,35.4C88.33,35.1 92.17,34.98 95.5,34.9C98.83,34.82 103.83,32.65 105.5,34.9C107.17,37.15 108,46.1 105.5,48.4C103,50.7 94.67,48.78 90.5,48.7C86.33,48.62 83.17,48.37 80.5,47.9C77.83,47.43 75.83,46.98 74.5,45.9C73.17,44.82 72.5,42.6 72.5,41.4Z" fill="#30ffc8"/><path d="M80.1,38.4C80.1,37.45 80.77,37.08 82.5,36.7C84.23,36.32 86.67,36.2 90.5,36.1C94.33,36 103,34.95 105.5,36.1C108,37.25 107.83,41.82 105.5,43C103.17,44.18 95.33,43.3 91.5,43.2C87.67,43.1 84.4,43.2 82.5,42.4C80.6,41.6 80.1,39.35 80.1,38.4Z" fill="#70ff90"/><path d="M70,10.9C64,12.23 69.62,16.73 69.5,18.9C69.38,21.07 69.3,22.23 69.3,23.9C69.3,25.57 69.3,27.48 69.5,28.9C69.7,30.32 70,31.57 70.5,32.4C71,33.23 71.62,33.72 72.5,33.9C73.38,34.08 73.8,33.73 75.8,33.5C77.8,33.27 81.83,32.73 84.5,32.5C87.17,32.27 88.3,32.2 91.8,32.1C95.3,32 103.22,35.43 105.5,31.9C107.78,28.37 111.42,14.4 105.5,10.9C99.58,7.4 76,9.57 70,10.9Z" fill="#0000cc"/><path d="M72.5,19.4C75.5,18.15 87,18.57 90.5,19.4C94,20.23 94,22.82 93.5,24.4C93,25.98 90.33,27.98 87.5,28.9C84.67,29.82 79,30.23 76.5,29.9C74,29.57 73.17,28.65 72.5,26.9C71.83,25.15 69.5,20.65 72.5,19.4Z" fill="#0000aa"/><path d="M55.5,30.9C55.9,30.3 56.93,29.77 57.7,29.8C58.47,29.83 59.7,30.42 60.1,31.1C60.5,31.78 60.33,32.8 60.1,33.9C59.87,35 59.3,37.2 58.7,37.7C58.1,38.2 57.07,37.62 56.5,36.9C55.93,36.18 55.47,34.4 55.3,33.4C55.13,32.4 55.1,31.5 55.5,30.9Z" fill="#0000cc"/><path d="M15.5,41.1C18.33,41.13 28,41.08 32.5,41.3C37,41.52 39.08,41.57 42.5,42.4C45.92,43.23 50.33,44.88 53,46.3C55.67,47.72 56.65,49.38 58.5,50.9C60.35,52.42 61.95,53.98 64.1,55.4C66.25,56.82 68.48,58.27 71.4,59.4C74.32,60.53 75.92,61.5 81.6,62.2C87.28,62.9 101.52,63.37 105.5,63.6" fill="none" stroke="#000" stroke-width="0.4" stroke-linejoin="round"/><path d="M15.5,32.4C18.33,32.45 27.83,32.37 32.5,32.7C37.17,33.03 40.08,33.45 43.5,34.4C46.92,35.35 50.5,36.9 53,38.4C55.5,39.9 56.65,41.57 58.5,43.4C60.35,45.23 61.95,47.65 64.1,49.4C66.25,51.15 68.48,52.57 71.4,53.9C74.32,55.23 75.92,56.48 81.6,57.4C87.28,58.32 101.52,59.07 105.5,59.4" fill="none" stroke="#000" stroke-width="0.4" stroke-linejoin="round"/><path d="M15.5,27.9C18.33,27.98 27.83,28.1 32.5,28.4C37.17,28.7 40.08,28.87 43.5,29.7C46.92,30.53 50.5,32.03 53,33.4C55.5,34.77 56.65,36.15 58.5,37.9C60.35,39.65 61.95,41.98 64.1,43.9C66.25,45.82 68.48,47.98 71.4,49.4C74.32,50.82 75.92,51.65 81.6,52.4C87.28,53.15 101.52,53.65 105.5,53.9" fill="none" stroke="#000" stroke-width="0.4" stroke-linejoin="round"/><path d="M52.5,29.9C52.75,30.23 53.03,30.77 54,31.9C54.97,33.03 56.62,34.93 58.3,36.7C59.98,38.47 62.15,40.55 64.1,42.5C66.05,44.45 67.57,46.93 70,48.4C72.43,49.87 72.78,50.7 78.7,51.3C84.62,51.9 101.03,51.88 105.5,52" fill="none" stroke="#000" stroke-width="0.4" stroke-linejoin="round"/><path d="M70,35.7C69.75,34.9 69,32.53 68.5,30.9C68,29.27 67.73,27.15 67,25.9C66.27,24.65 65.18,24.02 64.1,23.4C63.02,22.78 61.68,22.32 60.5,22.2C59.32,22.08 58,22.17 57,22.7C56,23.23 55.25,24.2 54.5,25.4C53.75,26.6 52.83,29.15 52.5,29.9" fill="none" stroke="#000" stroke-width="0.4" stroke-linejoin="round"/><path d="M68.5,38.2C68.5,39.17 68.02,42.3 68.5,44C68.98,45.7 70.18,47.18 71.4,48.4C72.62,49.62 73.62,50.7 75.8,51.3C77.98,51.9 81.12,52.13 84.5,52C87.88,51.87 92.6,50.77 96.1,50.5C99.6,50.23 103.93,50.42 105.5,50.4" fill="none" stroke="#000" stroke-width="1.2" stroke-linejoin="round"/><path d="M72.9,36C74.35,35.63 77.73,34.4 81.6,33.8C85.47,33.2 93.68,32.63 96.1,32.4" fill="none" stroke="#000" stroke-width="1.2" stroke-linejoin="round"/><path d="M55.5,30.9C55.9,30.3 56.93,29.77 57.7,29.8C58.47,29.83 59.7,30.42 60.1,31.1C60.5,31.78 60.33,32.8 60.1,33.9C59.87,35 59.3,37.2 58.7,37.7C58.1,38.2 57.07,37.62 56.5,36.9C55.93,36.18 55.47,34.4 55.3,33.4C55.13,32.4 55.1,31.5 55.5,30.9Z" fill="none" stroke="#000" stroke-width="1" stroke-linejoin="round"/><path d="M69.5,18.9C69.47,19.73 69.3,22.23 69.3,23.9C69.3,25.57 69.3,27.48 69.5,28.9C69.7,30.32 70,31.57 70.5,32.4C71,33.23 71.62,33.72 72.5,33.9C73.38,34.08 73.8,33.73 75.8,33.5C77.8,33.27 81.83,32.73 84.5,32.5C87.17,32.27 88.3,32.2 91.8,32.1C95.3,32 103.22,31.93 105.5,31.9" fill="none" stroke="#000" stroke-width="0.4" stroke-linejoin="round"/><path d="M34.5,19.7C35.17,19.82 36.95,20.15 38.5,20.4C40.05,20.65 42.92,21.07 43.8,21.2" fill="none" stroke="#000" stroke-width="0.6" stroke-linejoin="round"/></g></g>
<use href="#landf"/>
<g clip-path="url(#lc)"><use href="#grd"/></g>
<use href="#coast"/>
</g>
<path d="M32.92,16.52 A161.4 161.4 0 0 0 91.48,16.52 L106.92,100.21 A246.51 246.51 0 0 1 17.48,100.21 Z" fill="none" stroke="#222" stroke-width="1.15"/>
<g font-size="3.9" fill="#1a1a1a"><text x="15.08" y="102.61" text-anchor="end" font-size="4.15">69<tspan dy="-1.1" font-size="2.7">°</tspan><tspan dy="1.1"> N</tspan></text><text x="16.71" y="93.76" text-anchor="end" font-size="4.15">70<tspan dy="-1.1" font-size="2.7">°</tspan><tspan dy="1.1"> N</tspan></text><text x="18.36" y="84.82" text-anchor="end" font-size="4.15">71<tspan dy="-1.1" font-size="2.7">°</tspan><tspan dy="1.1"> N</tspan></text><text x="20.03" y="75.78" text-anchor="end" font-size="4.15">72<tspan dy="-1.1" font-size="2.7">°</tspan><tspan dy="1.1"> N</tspan></text><text x="21.72" y="66.63" text-anchor="end" font-size="4.15">73<tspan dy="-1.1" font-size="2.7">°</tspan><tspan dy="1.1"> N</tspan></text><text x="23.43" y="57.37" text-anchor="end" font-size="4.15">74<tspan dy="-1.1" font-size="2.7">°</tspan><tspan dy="1.1"> N</tspan></text><text x="25.16" y="47.98" text-anchor="end" font-size="4.15">75<tspan dy="-1.1" font-size="2.7">°</tspan><tspan dy="1.1"> N</tspan></text><text x="26.91" y="38.46" text-anchor="end" font-size="4.15">76<tspan dy="-1.1" font-size="2.7">°</tspan><tspan dy="1.1"> N</tspan></text><text x="28.7" y="28.78" text-anchor="end" font-size="4.15">77<tspan dy="-1.1" font-size="2.7">°</tspan><tspan dy="1.1"> N</tspan></text><text x="30.52" y="18.92" text-anchor="end" font-size="4.15">78<tspan dy="-1.1" font-size="2.7">°</tspan><tspan dy="1.1"> N</tspan></text><text x="18.08" y="112.01" text-anchor="middle" font-size="4.2">8<tspan dy="-1.2" font-size="2.8">°</tspan><tspan dy="1.2" dx="0.3"> E</tspan></text><text x="30.77" y="114.02" text-anchor="middle" font-size="4.2">12<tspan dy="-1.2" font-size="2.8">°</tspan><tspan dy="1.2" dx="0.3"> E</tspan></text><text x="43.55" y="115.35" text-anchor="middle" font-size="4.2">16<tspan dy="-1.2" font-size="2.8">°</tspan><tspan dy="1.2" dx="0.3"> E</tspan></text><text x="56.38" y="116.02" text-anchor="middle" font-size="4.2">20<tspan dy="-1.2" font-size="2.8">°</tspan><tspan dy="1.2" dx="0.3"> E</tspan></text><text x="69.22" y="116.02" text-anchor="middle" font-size="4.2">24<tspan dy="-1.2" font-size="2.8">°</tspan><tspan dy="1.2" dx="0.3"> E</tspan></text><text x="82.05" y="115.35" text-anchor="middle" font-size="4.2">28<tspan dy="-1.2" font-size="2.8">°</tspan><tspan dy="1.2" dx="0.3"> E</tspan></text><text x="94.83" y="114.02" text-anchor="middle" font-size="4.2">32<tspan dy="-1.2" font-size="2.8">°</tspan><tspan dy="1.2" dx="0.3"> E</tspan></text><text x="107.52" y="112.01" text-anchor="middle" font-size="4.2">36<tspan dy="-1.2" font-size="2.8">°</tspan><tspan dy="1.2" dx="0.3"> E</tspan></text></g>
</g>
<g transform="translate(434.25,119.1)">
<text x="62.2" y="7.7" text-anchor="middle" font-size="5.5" font-weight="bold" fill="#111">December 1990-1999</text>
<g clip-path="url(#fc)">
<use href="#grd"/>
<mask id="m13" maskUnits="userSpaceOnUse" x="-50" y="-50" width="200" height="200"><rect x="-50" y="-50" width="200" height="200" fill="#fff"/><path d="M15.75,75.9 22.75,76.9 26.25,79.3 29.75,81.4 34.45,83.9 37.75,86.4 41.45,88.7 44.25,91.4 46.15,94.5 48.75,96.9 50.75,98.4 52.75,100.4 54.25,101.9 54.25,110.9 15.75,110.9Z" fill="#000"/></mask><g clip-path="url(#dc)"><g mask="url(#m13)"><path d="M10.75,5.9 115.75,5.9 115.75,120.9 10.75,120.9Z" fill="#0000aa"/><path d="M15.75,55.4C17.47,62.9 23.2,55.48 26.05,55.9C28.9,56.32 30.3,56.82 32.85,57.9C35.4,58.98 38.5,60.98 41.35,62.4C44.2,63.82 47.1,65.32 49.95,66.4C52.8,67.48 55.6,68.32 58.45,68.9C61.3,69.48 62.77,69.82 67.05,69.9C71.33,69.98 77.7,69.57 84.15,69.4C90.6,69.23 102.15,78.65 105.75,68.9C109.35,59.15 120.75,20.57 105.75,10.9C90.75,1.23 30.75,3.48 15.75,10.9C0.75,18.32 14.03,47.9 15.75,55.4Z" fill="#0000ff"/><path d="M15.75,44.4C17.75,50.07 23.48,44.07 27.75,44.9C32.02,45.73 37.43,47.98 41.35,49.4C45.27,50.82 47.9,52.07 51.25,53.4C54.6,54.73 58.05,56.4 61.45,57.4C64.85,58.4 68.43,58.9 71.65,59.4C74.87,59.9 75.07,60.25 80.75,60.4C86.43,60.55 101.58,68.55 105.75,60.3C109.92,52.05 120.75,19.13 105.75,10.9C90.75,2.67 30.75,5.32 15.75,10.9C0.75,16.48 13.75,38.73 15.75,44.4Z" fill="#0030ff"/><path d="M15.75,38.3C18.28,42.87 26.72,37.78 30.95,38.3C35.18,38.82 37.77,40.22 41.15,41.4C44.53,42.58 48.48,44.23 51.25,45.4C54.02,46.57 55.5,47.23 57.75,48.4C60,49.57 62.42,51.35 64.75,52.4C67.08,53.45 69.42,54.03 71.75,54.7C74.08,55.37 76.08,56.03 78.75,56.4C81.42,56.77 83.25,56.82 87.75,56.9C92.25,56.98 102.75,60.93 105.75,56.9C108.75,52.87 107.92,36.7 105.75,32.7C103.58,28.7 96.45,32.8 92.75,32.9C89.05,33 86.3,32.97 83.55,33.3C80.8,33.63 78.42,34.22 76.25,34.9C74.08,35.58 71.9,36.57 70.55,37.4C69.2,38.23 69.1,38.93 68.15,39.9C67.2,40.87 65.93,42.93 64.85,43.2C63.77,43.47 62.73,42.72 61.65,41.5C60.57,40.28 59.43,37.67 58.35,35.9C57.27,34.13 55.83,32.9 55.15,30.9C54.47,28.9 54.48,27.23 54.25,23.9C54.02,20.57 60.17,13.07 53.75,10.9C47.33,8.73 22.08,6.33 15.75,10.9C9.42,15.47 13.22,33.73 15.75,38.3Z" fill="#00a8ff"/><path d="M15.75,34.2C18.45,38.08 27.62,33.83 31.95,34.2C36.28,34.57 38.53,35.37 41.75,36.4C44.97,37.43 48.42,39.07 51.25,40.4C54.08,41.73 56.33,43.05 58.75,44.4C61.17,45.75 63.42,47.42 65.75,48.5C68.08,49.58 70.58,50.08 72.75,50.9C74.92,51.72 74.92,52.9 78.75,53.4C82.58,53.9 91.25,53.82 95.75,53.9C100.25,53.98 104.08,57.43 105.75,53.9C107.42,50.37 107.92,36.2 105.75,32.7C103.58,29.2 96.45,32.8 92.75,32.9C89.05,33 86.3,32.97 83.55,33.3C80.8,33.63 78.42,34.22 76.25,34.9C74.08,35.58 71.9,36.57 70.55,37.4C69.2,38.23 69.1,38.93 68.15,39.9C67.2,40.87 65.93,42.93 64.85,43.2C63.77,43.47 62.73,42.72 61.65,41.5C60.57,40.28 59.43,37.67 58.35,35.9C57.27,34.13 55.83,32.9 55.15,30.9C54.47,28.9 54.48,27.23 54.25,23.9C54.02,20.57 60.17,13.07 53.75,10.9C47.33,8.73 22.08,7.02 15.75,10.9C9.42,14.78 13.05,30.32 15.75,34.2Z" fill="#00e0f0"/><path d="M15.75,29.2C18.45,32.25 27.72,28.7 31.95,29.2C36.18,29.7 39.18,31.28 41.15,32.2C43.12,33.12 42.5,33.87 43.75,34.7C45,35.53 47.3,36.47 48.65,37.2C50,37.93 50.95,38.73 51.85,39.1C52.75,39.47 53.65,40.1 54.05,39.4C54.45,38.7 54.38,36.48 54.25,34.9C54.12,33.32 53.53,31.57 53.25,29.9C52.97,28.23 52.8,28.07 52.55,24.9C52.3,21.73 57.88,13.23 51.75,10.9C45.62,8.57 21.75,7.85 15.75,10.9C9.75,13.95 13.05,26.15 15.75,29.2Z" fill="#40f070"/><path d="M63.25,46.9C63.25,46.37 63.5,45.58 64.05,44.5C64.6,43.42 65.47,41.42 66.55,40.4C67.63,39.38 69.07,39.08 70.55,38.4C72.03,37.72 73.82,36.78 75.45,36.3C77.08,35.82 78.97,35.7 80.35,35.5C81.73,35.3 81.7,35.5 83.75,35.1C85.8,34.7 88.98,33.47 92.65,33.1C96.32,32.73 103.57,29.9 105.75,32.9C107.93,35.9 107.42,48.02 105.75,51.1C104.08,54.18 99.42,51.28 95.75,51.4C92.08,51.52 87.67,51.87 83.75,51.8C79.83,51.73 75.53,51.68 72.25,51C68.97,50.32 65.55,48.38 64.05,47.7C62.55,47.02 63.25,47.43 63.25,46.9Z" fill="#40f070"/><path d="M15.75,17.9C20.83,17.23 41.12,17.4 46.25,17.9C51.38,18.4 46.73,19.95 46.55,20.9C46.37,21.85 46.28,23.27 45.15,23.6C44.02,23.93 41.62,23.17 39.75,22.9C37.88,22.63 37.95,22.17 33.95,22C29.95,21.83 18.78,22.58 15.75,21.9C12.72,21.22 10.67,18.57 15.75,17.9Z" fill="#ffee00"/><path d="M74.65,40.7C74.28,42.17 74.7,45.1 76.25,46.2C77.8,47.3 81.2,47.22 83.95,47.3C86.7,47.38 90.62,47.1 92.75,46.7C94.88,46.3 96,46.2 96.75,44.9C97.5,43.6 97.42,40.73 97.25,38.9C97.08,37.07 96.33,34.82 95.75,33.9C95.17,32.98 95.18,33.35 93.75,33.4C92.32,33.45 89.7,33.53 87.15,34.2C84.6,34.87 80.53,36.32 78.45,37.4C76.37,38.48 75.02,39.23 74.65,40.7Z" fill="#ffee00"/><path d="M77.35,39.6C78.08,38.6 79.75,38.1 81.75,37.4C83.75,36.7 87.18,35.72 89.35,35.4C91.52,35.08 93.72,34.92 94.75,35.5C95.78,36.08 95.45,37.67 95.55,38.9C95.65,40.13 96.38,41.97 95.35,42.9C94.32,43.83 91.8,44.13 89.35,44.5C86.9,44.87 82.65,45.28 80.65,45.1C78.65,44.92 77.9,44.32 77.35,43.4C76.8,42.48 76.62,40.6 77.35,39.6Z" fill="#ff9800"/><path d="M53.75,10.9C52.43,12.83 54.12,19.2 54.35,22.5C54.58,25.8 54.48,28.53 55.15,30.7C55.82,32.87 57.27,33.75 58.35,35.5C59.43,37.25 60.57,39.97 61.65,41.2C62.73,42.43 63.77,43.17 64.85,42.9C65.93,42.63 67.87,40.7 68.15,39.6C68.43,38.5 67.1,38.07 66.55,36.3C66,34.53 65.53,31.3 64.85,29C64.17,26.7 62.88,25.52 62.45,22.5C62.02,19.48 63.7,12.83 62.25,10.9C60.8,8.97 55.07,8.97 53.75,10.9Z" fill="#0040ff"/><path d="M62.25,10.9C55.03,12.83 62.02,19.48 62.45,22.5C62.88,25.52 64.17,26.7 64.85,29C65.53,31.3 66,34.6 66.55,36.3C67.1,38 67.48,39.1 68.15,39.2C68.82,39.3 69.2,37.7 70.55,36.9C71.9,36.1 74.08,35.08 76.25,34.4C78.42,33.72 80.8,33.22 83.55,32.8C86.3,32.38 89.05,32.05 92.75,31.9C96.45,31.75 103.58,35.4 105.75,31.9C107.92,28.4 113,14.4 105.75,10.9C98.5,7.4 69.47,8.97 62.25,10.9Z" fill="#0000cc"/><path d="M66.75,19.9C68.92,18.4 76.58,18.9 80.75,18.9C84.92,18.9 89.75,18.57 91.75,19.9C93.75,21.23 94.08,25.23 92.75,26.9C91.42,28.57 87.08,29.15 83.75,29.9C80.42,30.65 75.42,31.73 72.75,31.4C70.08,31.07 68.75,29.82 67.75,27.9C66.75,25.98 64.58,21.4 66.75,19.9Z" fill="#0000aa"/><path d="M15.75,55.4C17.47,55.48 23.2,55.48 26.05,55.9C28.9,56.32 30.3,56.82 32.85,57.9C35.4,58.98 38.5,60.98 41.35,62.4C44.2,63.82 47.1,65.32 49.95,66.4C52.8,67.48 55.6,68.32 58.45,68.9C61.3,69.48 62.77,69.82 67.05,69.9C71.33,69.98 77.7,69.57 84.15,69.4C90.6,69.23 102.15,68.98 105.75,68.9" fill="none" stroke="#000" stroke-width="0.4" stroke-linejoin="round"/><path d="M15.75,44.4C17.75,44.48 23.48,44.07 27.75,44.9C32.02,45.73 37.43,47.98 41.35,49.4C45.27,50.82 47.9,52.07 51.25,53.4C54.6,54.73 58.05,56.4 61.45,57.4C64.85,58.4 68.43,58.9 71.65,59.4C74.87,59.9 75.07,60.25 80.75,60.4C86.43,60.55 101.58,60.32 105.75,60.3" fill="none" stroke="#000" stroke-width="0.4" stroke-linejoin="round"/><path d="M15.75,34.2C18.45,34.2 27.62,33.83 31.95,34.2C36.28,34.57 38.53,35.37 41.75,36.4C44.97,37.43 48.42,39.07 51.25,40.4C54.08,41.73 56.33,43.05 58.75,44.4C61.17,45.75 63.42,47.42 65.75,48.5C68.08,49.58 70.58,50.08 72.75,50.9C74.92,51.72 74.92,52.9 78.75,53.4C82.58,53.9 91.25,53.82 95.75,53.9C100.25,53.98 104.08,53.9 105.75,53.9" fill="none" stroke="#000" stroke-width="0.4" stroke-linejoin="round"/><path d="M15.75,29.2C18.45,29.2 27.72,28.7 31.95,29.2C36.18,29.7 38.27,31.02 41.15,32.2C44.03,33.38 47.05,34.93 49.25,36.3C51.45,37.67 52.65,39.13 54.35,40.4C56.05,41.67 57.92,43.07 59.45,43.9C60.98,44.73 61.83,44.48 63.55,45.4C65.27,46.32 67.27,48.4 69.75,49.4C72.23,50.4 74.12,51.12 78.45,51.4C82.78,51.68 91.2,51.15 95.75,51.1C100.3,51.05 104.08,51.1 105.75,51.1" fill="none" stroke="#000" stroke-width="0.4" stroke-linejoin="round"/><path d="M15.75,38.3C18.28,38.3 26.72,37.78 30.95,38.3C35.18,38.82 37.77,40.22 41.15,41.4C44.53,42.58 48.48,44.23 51.25,45.4C54.02,46.57 55.5,47.23 57.75,48.4C60,49.57 62.42,51.35 64.75,52.4C67.08,53.45 69.42,54.03 71.75,54.7C74.08,55.37 76.08,56.03 78.75,56.4C81.42,56.77 83.25,56.82 87.75,56.9C92.25,56.98 102.75,56.9 105.75,56.9" fill="none" stroke="#000" stroke-width="1.2" stroke-linejoin="round"/><path d="M74.65,40.7C74.28,42.17 74.7,45.1 76.25,46.2C77.8,47.3 81.2,47.22 83.95,47.3C86.7,47.38 90.62,47.1 92.75,46.7C94.88,46.3 96,46.2 96.75,44.9C97.5,43.6 97.42,40.73 97.25,38.9C97.08,37.07 96.33,34.82 95.75,33.9C95.17,32.98 95.18,33.35 93.75,33.4C92.32,33.45 89.7,33.53 87.15,34.2C84.6,34.87 80.53,36.32 78.45,37.4C76.37,38.48 75.02,39.23 74.65,40.7Z" fill="none" stroke="#000" stroke-width="1.2" stroke-linejoin="round"/><path d="M62.45,22.5C62.85,23.58 64.17,26.7 64.85,29C65.53,31.3 66,34.6 66.55,36.3C67.1,38 67.48,39.1 68.15,39.2C68.82,39.3 69.2,37.7 70.55,36.9C71.9,36.1 74.08,35.08 76.25,34.4C78.42,33.72 80.8,33.22 83.55,32.8C86.3,32.38 89.05,32.05 92.75,31.9C96.45,31.75 103.58,31.9 105.75,31.9" fill="none" stroke="#000" stroke-width="0.4" stroke-linejoin="round"/><path d="M54.35,22.5C54.48,23.87 54.48,28.53 55.15,30.7C55.82,32.87 57.27,33.75 58.35,35.5C59.43,37.25 60.57,39.97 61.65,41.2C62.73,42.43 63.77,43.17 64.85,42.9C65.93,42.63 67.2,40.55 68.15,39.6C69.1,38.65 69.2,38.02 70.55,37.2C71.9,36.38 74.08,35.38 76.25,34.7C78.42,34.02 80.8,33.48 83.55,33.1C86.3,32.72 89.05,32.55 92.75,32.4C96.45,32.25 103.58,32.23 105.75,32.2" fill="none" stroke="#000" stroke-width="1.1" stroke-linejoin="round"/><path d="M33.95,22.2C34.92,22.35 37.88,22.83 39.75,23.1C41.62,23.37 44.25,23.68 45.15,23.8" fill="none" stroke="#000" stroke-width="1.1" stroke-linejoin="round"/></g></g>
<use href="#landf"/>
<g clip-path="url(#lc)"><use href="#grd"/></g>
<use href="#coast"/>
</g>
<path d="M32.92,16.52 A161.4 161.4 0 0 0 91.48,16.52 L106.92,100.21 A246.51 246.51 0 0 1 17.48,100.21 Z" fill="none" stroke="#222" stroke-width="1.15"/>
<g font-size="3.9" fill="#1a1a1a"><text x="15.08" y="102.61" text-anchor="end" font-size="4.15">69<tspan dy="-1.1" font-size="2.7">°</tspan><tspan dy="1.1"> N</tspan></text><text x="16.71" y="93.76" text-anchor="end" font-size="4.15">70<tspan dy="-1.1" font-size="2.7">°</tspan><tspan dy="1.1"> N</tspan></text><text x="18.36" y="84.82" text-anchor="end" font-size="4.15">71<tspan dy="-1.1" font-size="2.7">°</tspan><tspan dy="1.1"> N</tspan></text><text x="20.03" y="75.78" text-anchor="end" font-size="4.15">72<tspan dy="-1.1" font-size="2.7">°</tspan><tspan dy="1.1"> N</tspan></text><text x="21.72" y="66.63" text-anchor="end" font-size="4.15">73<tspan dy="-1.1" font-size="2.7">°</tspan><tspan dy="1.1"> N</tspan></text><text x="23.43" y="57.37" text-anchor="end" font-size="4.15">74<tspan dy="-1.1" font-size="2.7">°</tspan><tspan dy="1.1"> N</tspan></text><text x="25.16" y="47.98" text-anchor="end" font-size="4.15">75<tspan dy="-1.1" font-size="2.7">°</tspan><tspan dy="1.1"> N</tspan></text><text x="26.91" y="38.46" text-anchor="end" font-size="4.15">76<tspan dy="-1.1" font-size="2.7">°</tspan><tspan dy="1.1"> N</tspan></text><text x="28.7" y="28.78" text-anchor="end" font-size="4.15">77<tspan dy="-1.1" font-size="2.7">°</tspan><tspan dy="1.1"> N</tspan></text><text x="30.52" y="18.92" text-anchor="end" font-size="4.15">78<tspan dy="-1.1" font-size="2.7">°</tspan><tspan dy="1.1"> N</tspan></text><text x="18.08" y="112.01" text-anchor="middle" font-size="4.2">8<tspan dy="-1.2" font-size="2.8">°</tspan><tspan dy="1.2" dx="0.3"> E</tspan></text><text x="30.77" y="114.02" text-anchor="middle" font-size="4.2">12<tspan dy="-1.2" font-size="2.8">°</tspan><tspan dy="1.2" dx="0.3"> E</tspan></text><text x="43.55" y="115.35" text-anchor="middle" font-size="4.2">16<tspan dy="-1.2" font-size="2.8">°</tspan><tspan dy="1.2" dx="0.3"> E</tspan></text><text x="56.38" y="116.02" text-anchor="middle" font-size="4.2">20<tspan dy="-1.2" font-size="2.8">°</tspan><tspan dy="1.2" dx="0.3"> E</tspan></text><text x="69.22" y="116.02" text-anchor="middle" font-size="4.2">24<tspan dy="-1.2" font-size="2.8">°</tspan><tspan dy="1.2" dx="0.3"> E</tspan></text><text x="82.05" y="115.35" text-anchor="middle" font-size="4.2">28<tspan dy="-1.2" font-size="2.8">°</tspan><tspan dy="1.2" dx="0.3"> E</tspan></text><text x="94.83" y="114.02" text-anchor="middle" font-size="4.2">32<tspan dy="-1.2" font-size="2.8">°</tspan><tspan dy="1.2" dx="0.3"> E</tspan></text><text x="107.52" y="112.01" text-anchor="middle" font-size="4.2">36<tspan dy="-1.2" font-size="2.8">°</tspan><tspan dy="1.2" dx="0.3"> E</tspan></text></g>
</g>
<g transform="translate(0,238.2)">
<text x="62.2" y="7.7" text-anchor="middle" font-size="5.5" font-weight="bold" fill="#111">September 2000-2009</text>
<g clip-path="url(#fc)">
<use href="#grd"/>

<use href="#landf"/>
<g clip-path="url(#lc)"><use href="#grd"/></g>
<use href="#coast"/>
</g>
<path d="M32.92,16.52 A161.4 161.4 0 0 0 91.48,16.52 L106.92,100.21 A246.51 246.51 0 0 1 17.48,100.21 Z" fill="none" stroke="#222" stroke-width="1.15"/>
<g font-size="3.9" fill="#1a1a1a"><text x="15.08" y="102.61" text-anchor="end" font-size="4.15">69<tspan dy="-1.1" font-size="2.7">°</tspan><tspan dy="1.1"> N</tspan></text><text x="16.71" y="93.76" text-anchor="end" font-size="4.15">70<tspan dy="-1.1" font-size="2.7">°</tspan><tspan dy="1.1"> N</tspan></text><text x="18.36" y="84.82" text-anchor="end" font-size="4.15">71<tspan dy="-1.1" font-size="2.7">°</tspan><tspan dy="1.1"> N</tspan></text><text x="20.03" y="75.78" text-anchor="end" font-size="4.15">72<tspan dy="-1.1" font-size="2.7">°</tspan><tspan dy="1.1"> N</tspan></text><text x="21.72" y="66.63" text-anchor="end" font-size="4.15">73<tspan dy="-1.1" font-size="2.7">°</tspan><tspan dy="1.1"> N</tspan></text><text x="23.43" y="57.37" text-anchor="end" font-size="4.15">74<tspan dy="-1.1" font-size="2.7">°</tspan><tspan dy="1.1"> N</tspan></text><text x="25.16" y="47.98" text-anchor="end" font-size="4.15">75<tspan dy="-1.1" font-size="2.7">°</tspan><tspan dy="1.1"> N</tspan></text><text x="26.91" y="38.46" text-anchor="end" font-size="4.15">76<tspan dy="-1.1" font-size="2.7">°</tspan><tspan dy="1.1"> N</tspan></text><text x="28.7" y="28.78" text-anchor="end" font-size="4.15">77<tspan dy="-1.1" font-size="2.7">°</tspan><tspan dy="1.1"> N</tspan></text><text x="30.52" y="18.92" text-anchor="end" font-size="4.15">78<tspan dy="-1.1" font-size="2.7">°</tspan><tspan dy="1.1"> N</tspan></text><text x="18.08" y="112.01" text-anchor="middle" font-size="4.2">8<tspan dy="-1.2" font-size="2.8">°</tspan><tspan dy="1.2" dx="0.3"> E</tspan></text><text x="30.77" y="114.02" text-anchor="middle" font-size="4.2">12<tspan dy="-1.2" font-size="2.8">°</tspan><tspan dy="1.2" dx="0.3"> E</tspan></text><text x="43.55" y="115.35" text-anchor="middle" font-size="4.2">16<tspan dy="-1.2" font-size="2.8">°</tspan><tspan dy="1.2" dx="0.3"> E</tspan></text><text x="56.38" y="116.02" text-anchor="middle" font-size="4.2">20<tspan dy="-1.2" font-size="2.8">°</tspan><tspan dy="1.2" dx="0.3"> E</tspan></text><text x="69.22" y="116.02" text-anchor="middle" font-size="4.2">24<tspan dy="-1.2" font-size="2.8">°</tspan><tspan dy="1.2" dx="0.3"> E</tspan></text><text x="82.05" y="115.35" text-anchor="middle" font-size="4.2">28<tspan dy="-1.2" font-size="2.8">°</tspan><tspan dy="1.2" dx="0.3"> E</tspan></text><text x="94.83" y="114.02" text-anchor="middle" font-size="4.2">32<tspan dy="-1.2" font-size="2.8">°</tspan><tspan dy="1.2" dx="0.3"> E</tspan></text><text x="107.52" y="112.01" text-anchor="middle" font-size="4.2">36<tspan dy="-1.2" font-size="2.8">°</tspan><tspan dy="1.2" dx="0.3"> E</tspan></text></g>
</g>
<g transform="translate(144.75,238.2)">
<text x="62.2" y="7.7" text-anchor="middle" font-size="5.5" font-weight="bold" fill="#111">October 2000-2009</text>
<g clip-path="url(#fc)">
<use href="#grd"/>
<mask id="m21" maskUnits="userSpaceOnUse" x="-50" y="-50" width="200" height="200"><rect x="-50" y="-50" width="200" height="200" fill="#fff"/><path d="M10.25,36.3 31.35,36.3 33.45,37 35.45,41.8 36.85,47.3 40.25,48.6 42.95,47.9 45.05,52 48.45,54.1 50.45,56.8 55.25,58.2 57.35,55.4 60.75,53.4 67.55,52.7 69.55,51.4 71.65,52 72.95,53.4 74.35,50.7 79.85,47.9 83.95,45.9 85.95,43.2 88.05,42.5 90.75,41.1 92.75,41.1 93.45,38.4 93.45,29.5 93.55,11.8 115.25,11.8 115.25,121.8 10.25,121.8Z" fill="#000"/></mask><g clip-path="url(#dc)"><g mask="url(#m21)"><path d="M10.25,6.8 115.25,6.8 115.25,121.8 10.25,121.8Z" fill="#0000b4"/><path d="M20.25,36.8C22.08,41.05 27.92,36.72 31.25,37.3C34.58,37.88 37.08,39.13 40.25,40.3C43.42,41.47 46.92,43.13 50.25,44.3C53.58,45.47 56.92,46.72 60.25,47.3C63.58,47.88 66.92,48.13 70.25,47.8C73.58,47.47 75.25,46.3 80.25,45.3C85.25,44.3 96.92,47.38 100.25,41.8C103.58,36.22 113.58,16.8 100.25,11.8C86.92,6.8 33.58,7.63 20.25,11.8C6.92,15.97 18.42,32.55 20.25,36.8Z" fill="#0000c4"/><path d="M20.25,32.3C22.08,35.72 27.92,31.97 31.25,32.3C34.58,32.63 37.23,33.47 40.25,34.3C43.27,35.13 46.02,36.22 49.35,37.3C52.68,38.38 56.77,40.22 60.25,40.8C63.73,41.38 67.22,41.05 70.25,40.8C73.28,40.55 75.15,40.05 78.45,39.3C81.75,38.55 86.42,36.97 90.05,36.3C93.68,35.63 98.55,39.38 100.25,35.3C101.95,31.22 113.58,15.72 100.25,11.8C86.92,7.88 33.58,8.38 20.25,11.8C6.92,15.22 18.42,28.88 20.25,32.3Z" fill="#0000d4"/><path d="M20.25,27.8C22.08,30.47 27.92,27.55 31.25,27.8C34.58,28.05 37.08,28.72 40.25,29.3C43.42,29.88 46.92,30.63 50.25,31.3C53.58,31.97 57.42,33 60.25,33.3C63.08,33.6 64.75,33.43 67.25,33.1C69.75,32.77 72.25,31.93 75.25,31.3C78.25,30.67 81.08,29.8 85.25,29.3C89.42,28.8 97.75,31.22 100.25,28.3C102.75,25.38 113.58,14.55 100.25,11.8C86.92,9.05 33.58,9.13 20.25,11.8C6.92,14.47 18.42,25.13 20.25,27.8Z" fill="#0000e4"/><path d="M20.25,23.3C22.75,25.3 30.25,23.3 35.25,23.8C40.25,24.3 46.08,25.55 50.25,26.3C54.42,27.05 56.92,28.22 60.25,28.3C63.58,28.38 66.08,27.38 70.25,26.8C74.42,26.22 80.25,25.22 85.25,24.8C90.25,24.38 97.75,26.47 100.25,24.3C102.75,22.13 113.58,13.88 100.25,11.8C86.92,9.72 33.58,9.88 20.25,11.8C6.92,13.72 17.75,21.3 20.25,23.3Z" fill="#0000f4"/><path d="M31.25,18.8C33.75,17.97 43.92,17.88 46.25,18.8C48.58,19.72 46.42,23.3 45.25,24.3C44.08,25.3 41.58,24.88 39.25,24.8C36.92,24.72 32.58,24.8 31.25,23.8C29.92,22.8 28.75,19.63 31.25,18.8Z" fill="#0000ff"/><path d="M55.25,23.8C54.42,22.88 57.75,20.63 60.25,19.8C62.75,18.97 66.08,18.97 70.25,18.8C74.42,18.63 81.58,18.63 85.25,18.8C88.92,18.97 91.08,19.22 92.25,19.8C93.42,20.38 94.25,21.72 92.25,22.3C90.25,22.88 84.75,22.8 80.25,23.3C75.75,23.8 69.42,25.22 65.25,25.3C61.08,25.38 56.08,24.72 55.25,23.8Z" fill="#0000ff"/><path d="M20.25,23.3C22.75,23.38 30.25,23.3 35.25,23.8C40.25,24.3 46.08,25.55 50.25,26.3C54.42,27.05 56.92,28.22 60.25,28.3C63.58,28.38 66.08,27.38 70.25,26.8C74.42,26.22 80.25,25.22 85.25,24.8C90.25,24.38 97.75,24.38 100.25,24.3" fill="none" stroke="#000" stroke-width="0.45" stroke-linejoin="round"/><path d="M20.25,27.8C22.08,27.8 27.92,27.55 31.25,27.8C34.58,28.05 37.08,28.72 40.25,29.3C43.42,29.88 46.92,30.63 50.25,31.3C53.58,31.97 57.42,33 60.25,33.3C63.08,33.6 64.75,33.43 67.25,33.1C69.75,32.77 72.25,31.93 75.25,31.3C78.25,30.67 81.08,29.8 85.25,29.3C89.42,28.8 97.75,28.47 100.25,28.3" fill="none" stroke="#000" stroke-width="0.45" stroke-linejoin="round"/><path d="M20.25,32.3C22.08,32.3 27.92,31.97 31.25,32.3C34.58,32.63 37.23,33.47 40.25,34.3C43.27,35.13 46.02,36.22 49.35,37.3C52.68,38.38 56.77,40.22 60.25,40.8C63.73,41.38 67.22,41.05 70.25,40.8C73.28,40.55 75.15,40.05 78.45,39.3C81.75,38.55 86.42,36.97 90.05,36.3C93.68,35.63 98.55,35.47 100.25,35.3" fill="none" stroke="#000" stroke-width="0.45" stroke-linejoin="round"/><path d="M20.25,36.8C22.08,36.88 27.92,36.72 31.25,37.3C34.58,37.88 37.08,39.13 40.25,40.3C43.42,41.47 46.92,43.13 50.25,44.3C53.58,45.47 56.92,46.72 60.25,47.3C63.58,47.88 66.92,48.13 70.25,47.8C73.58,47.47 75.25,46.3 80.25,45.3C85.25,44.3 96.92,42.38 100.25,41.8" fill="none" stroke="#000" stroke-width="0.45" stroke-linejoin="round"/><path d="M30.25,40.8C31.92,41.3 36.92,42.55 40.25,43.8C43.58,45.05 46.92,47.13 50.25,48.3C53.58,49.47 56.92,50.38 60.25,50.8C63.58,51.22 66.92,51.22 70.25,50.8C73.58,50.38 76.58,49.3 80.25,48.3C83.92,47.3 90.25,45.38 92.25,44.8" fill="none" stroke="#000" stroke-width="0.4" stroke-linejoin="round"/></g></g>
<use href="#landf"/>
<g clip-path="url(#lc)"><use href="#grd"/></g>
<use href="#coast"/>
</g>
<path d="M32.92,16.52 A161.4 161.4 0 0 0 91.48,16.52 L106.92,100.21 A246.51 246.51 0 0 1 17.48,100.21 Z" fill="none" stroke="#222" stroke-width="1.15"/>
<g font-size="3.9" fill="#1a1a1a"><text x="15.08" y="102.61" text-anchor="end" font-size="4.15">69<tspan dy="-1.1" font-size="2.7">°</tspan><tspan dy="1.1"> N</tspan></text><text x="16.71" y="93.76" text-anchor="end" font-size="4.15">70<tspan dy="-1.1" font-size="2.7">°</tspan><tspan dy="1.1"> N</tspan></text><text x="18.36" y="84.82" text-anchor="end" font-size="4.15">71<tspan dy="-1.1" font-size="2.7">°</tspan><tspan dy="1.1"> N</tspan></text><text x="20.03" y="75.78" text-anchor="end" font-size="4.15">72<tspan dy="-1.1" font-size="2.7">°</tspan><tspan dy="1.1"> N</tspan></text><text x="21.72" y="66.63" text-anchor="end" font-size="4.15">73<tspan dy="-1.1" font-size="2.7">°</tspan><tspan dy="1.1"> N</tspan></text><text x="23.43" y="57.37" text-anchor="end" font-size="4.15">74<tspan dy="-1.1" font-size="2.7">°</tspan><tspan dy="1.1"> N</tspan></text><text x="25.16" y="47.98" text-anchor="end" font-size="4.15">75<tspan dy="-1.1" font-size="2.7">°</tspan><tspan dy="1.1"> N</tspan></text><text x="26.91" y="38.46" text-anchor="end" font-size="4.15">76<tspan dy="-1.1" font-size="2.7">°</tspan><tspan dy="1.1"> N</tspan></text><text x="28.7" y="28.78" text-anchor="end" font-size="4.15">77<tspan dy="-1.1" font-size="2.7">°</tspan><tspan dy="1.1"> N</tspan></text><text x="30.52" y="18.92" text-anchor="end" font-size="4.15">78<tspan dy="-1.1" font-size="2.7">°</tspan><tspan dy="1.1"> N</tspan></text><text x="18.08" y="112.01" text-anchor="middle" font-size="4.2">8<tspan dy="-1.2" font-size="2.8">°</tspan><tspan dy="1.2" dx="0.3"> E</tspan></text><text x="30.77" y="114.02" text-anchor="middle" font-size="4.2">12<tspan dy="-1.2" font-size="2.8">°</tspan><tspan dy="1.2" dx="0.3"> E</tspan></text><text x="43.55" y="115.35" text-anchor="middle" font-size="4.2">16<tspan dy="-1.2" font-size="2.8">°</tspan><tspan dy="1.2" dx="0.3"> E</tspan></text><text x="56.38" y="116.02" text-anchor="middle" font-size="4.2">20<tspan dy="-1.2" font-size="2.8">°</tspan><tspan dy="1.2" dx="0.3"> E</tspan></text><text x="69.22" y="116.02" text-anchor="middle" font-size="4.2">24<tspan dy="-1.2" font-size="2.8">°</tspan><tspan dy="1.2" dx="0.3"> E</tspan></text><text x="82.05" y="115.35" text-anchor="middle" font-size="4.2">28<tspan dy="-1.2" font-size="2.8">°</tspan><tspan dy="1.2" dx="0.3"> E</tspan></text><text x="94.83" y="114.02" text-anchor="middle" font-size="4.2">32<tspan dy="-1.2" font-size="2.8">°</tspan><tspan dy="1.2" dx="0.3"> E</tspan></text><text x="107.52" y="112.01" text-anchor="middle" font-size="4.2">36<tspan dy="-1.2" font-size="2.8">°</tspan><tspan dy="1.2" dx="0.3"> E</tspan></text></g>
</g>
<g transform="translate(289.5,238.2)">
<text x="62.2" y="7.7" text-anchor="middle" font-size="5.5" font-weight="bold" fill="#111">November 2000-2009</text>
<g clip-path="url(#fc)">
<use href="#grd"/>
<mask id="m22" maskUnits="userSpaceOnUse" x="-50" y="-50" width="200" height="200"><rect x="-50" y="-50" width="200" height="200" fill="#fff"/><path d="M8.5,63.2 26.6,63.2 32.6,62.3 35.2,58.9 37.7,57.2 45.4,58 48,61.5 54.8,62.3 57.4,65.7 59.9,68.3 63.4,67.4 66.8,65.7 70.2,67.4 71.9,64 77,61.5 83.9,61.5 87.3,58.9 90.7,57.2 94.1,58.9 97.6,58.9 105.5,58.8 105.5,121.8 8.5,121.8Z" fill="#000"/></mask><g clip-path="url(#dc)"><g mask="url(#m22)"><path d="M10.5,6.8 110.5,6.8 110.5,121.8 10.5,121.8Z" fill="#0000aa"/><path d="M15.5,43.6C17.5,49.17 23.23,44.78 27.5,45.2C31.77,45.62 35.98,45.38 41.1,46.1C46.22,46.82 52.5,49.08 58.2,49.5C63.9,49.92 69.6,49.03 75.3,48.6C81,48.17 87.37,47.2 92.4,46.9C97.43,46.6 103.32,52.65 105.5,46.8C107.68,40.95 120.5,17.63 105.5,11.8C90.5,5.97 30.5,6.5 15.5,11.8C0.5,17.1 13.5,38.03 15.5,43.6Z" fill="#0000cc"/><path d="M15.5,40C17.5,44.75 23.23,39.92 27.5,40.3C31.77,40.68 35.98,41.42 41.1,42.3C46.22,43.18 52.5,45.13 58.2,45.6C63.9,46.07 69.6,45.3 75.3,45.1C81,44.9 87.37,44.53 92.4,44.4C97.43,44.27 103.32,49.73 105.5,44.3C107.68,38.87 120.5,17.22 105.5,11.8C90.5,6.38 30.5,7.1 15.5,11.8C0.5,16.5 13.5,35.25 15.5,40Z" fill="#0000ff"/><path d="M15.5,34.2C17.5,38 23.33,34.25 27.5,34.6C31.67,34.95 36.67,35.6 40.5,36.3C44.33,37 46.83,37.95 50.5,38.8C54.17,39.65 58.5,41.07 62.5,41.4C66.5,41.73 70.67,41.1 74.5,40.8C78.33,40.5 80.33,39.88 85.5,39.6C90.67,39.32 102.17,43.73 105.5,39.1C108.83,34.47 120.5,16.35 105.5,11.8C90.5,7.25 30.5,8.07 15.5,11.8C0.5,15.53 13.5,30.4 15.5,34.2Z" fill="#0030ff"/><path d="M15.5,23.8C11,25.3 25.17,24.8 28.5,25.8C31.83,26.8 33.17,28.8 35.5,29.8C37.83,30.8 40.33,31.13 42.5,31.8C44.67,32.47 46.17,32.88 48.5,33.8C50.83,34.72 54.17,36.63 56.5,37.3C58.83,37.97 60.67,38.38 62.5,37.8C64.33,37.22 65.83,34.55 67.5,33.8C69.17,33.05 71,33.05 72.5,33.3C74,33.55 74.83,34.8 76.5,35.3C78.17,35.8 80.17,36.38 82.5,36.3C84.83,36.22 88.17,35.38 90.5,34.8C92.83,34.22 94,33.13 96.5,32.8C99,32.47 104,34.3 105.5,32.8C107,31.3 108,24.88 105.5,23.8C103,22.72 94.67,25.63 90.5,26.3C86.33,26.97 83.5,27.55 80.5,27.8C77.5,28.05 74.83,28.47 72.5,27.8C70.17,27.13 68.17,25.13 66.5,23.8C64.83,22.47 64.33,20.97 62.5,19.8C60.67,18.63 63.33,16.13 55.5,16.8C47.67,17.47 20,22.3 15.5,23.8Z" fill="#0064ff"/><path d="M30.5,19.8C32.5,19.13 40,19.13 42.5,19.8C45,20.47 45,22.38 45.5,23.8C46,25.22 46.33,27.63 45.5,28.3C44.67,28.97 42.33,28.22 40.5,27.8C38.67,27.38 36.17,26.47 34.5,25.8C32.83,25.13 31.17,24.8 30.5,23.8C29.83,22.8 28.5,20.47 30.5,19.8Z" fill="#00a4ff"/><path d="M52,27.8C52.33,26.22 53.92,26.05 55.5,25.8C57.08,25.55 59.97,25.72 61.5,26.3C63.03,26.88 64.2,27.97 64.7,29.3C65.2,30.63 65.37,33.22 64.5,34.3C63.63,35.38 61.33,35.63 59.5,35.8C57.67,35.97 54.75,36.63 53.5,35.3C52.25,33.97 51.67,29.38 52,27.8Z" fill="#00a4ff"/><path d="M64.5,11.8C57.67,13.3 64.08,18.47 64.5,20.8C64.92,23.13 65.83,24.47 67,25.8C68.17,27.13 69.92,28.22 71.5,28.8C73.08,29.38 74.83,29.38 76.5,29.3C78.17,29.22 79.83,28.22 81.5,28.3C83.17,28.38 84.83,29.63 86.5,29.8C88.17,29.97 89.83,29.63 91.5,29.3C93.17,28.97 94.17,28.13 96.5,27.8C98.83,27.47 104,29.97 105.5,27.3C107,24.63 112.33,14.38 105.5,11.8C98.67,9.22 71.33,10.3 64.5,11.8Z" fill="#0000e4"/><path d="M71.2,23.8C71.62,22.77 72.95,22.77 74.5,22.6C76.05,22.43 79,22.27 80.5,22.8C82,23.33 83.17,24.55 83.5,25.8C83.83,27.05 83.67,29.42 82.5,30.3C81.33,31.18 78.25,31.35 76.5,31.1C74.75,30.85 72.88,30.02 72,28.8C71.12,27.58 70.78,24.83 71.2,23.8Z" fill="#0000c4"/><path d="M77,32.3C77.33,31.22 79.58,29.72 81.5,29.3C83.42,28.88 86.83,29.22 88.5,29.8C90.17,30.38 91.83,31.72 91.5,32.8C91.17,33.88 88.5,35.8 86.5,36.3C84.5,36.8 81.08,36.47 79.5,35.8C77.92,35.13 76.67,33.38 77,32.3Z" fill="#0040ff"/><path d="M76.5,32.3C76.83,31.47 79.5,30.55 81.5,30.3C83.5,30.05 87,30.3 88.5,30.8C90,31.3 91,32.55 90.5,33.3C90,34.05 87.33,34.97 85.5,35.3C83.67,35.63 81,35.8 79.5,35.3C78,34.8 76.17,33.13 76.5,32.3Z" fill="#0030ff"/><path d="M80,33.1C80.33,32.73 82.33,32.15 83.5,32.1C84.67,32.05 86.75,32.45 87,32.8C87.25,33.15 85.92,33.95 85,34.2C84.08,34.45 82.33,34.48 81.5,34.3C80.67,34.12 79.67,33.47 80,33.1Z" fill="#0098ff"/><path d="M30.5,16.8C32.33,16.13 39.67,16.05 41.5,16.8C43.33,17.55 42.17,20.22 41.5,21.3C40.83,22.38 39,23.13 37.5,23.3C36,23.47 33.67,22.72 32.5,22.3C31.33,21.88 30.83,21.72 30.5,20.8C30.17,19.88 28.67,17.47 30.5,16.8Z" fill="#00f0f0"/><path d="M54.3,30.8C54.55,30.1 55.97,29.72 57,29.6C58.03,29.48 59.75,29.65 60.5,30.1C61.25,30.55 61.75,31.63 61.5,32.3C61.25,32.97 60,33.85 59,34.1C58,34.35 56.28,34.35 55.5,33.8C54.72,33.25 54.05,31.5 54.3,30.8Z" fill="#00f0f0"/><path d="M15.5,43.6C17.5,43.87 23.23,44.78 27.5,45.2C31.77,45.62 35.98,45.38 41.1,46.1C46.22,46.82 52.5,49.08 58.2,49.5C63.9,49.92 69.6,49.03 75.3,48.6C81,48.17 87.37,47.2 92.4,46.9C97.43,46.6 103.32,46.82 105.5,46.8" fill="none" stroke="#000" stroke-width="0.4" stroke-linejoin="round"/><path d="M15.5,40C17.5,40.05 23.23,39.92 27.5,40.3C31.77,40.68 35.98,41.42 41.1,42.3C46.22,43.18 52.5,45.13 58.2,45.6C63.9,46.07 69.6,45.3 75.3,45.1C81,44.9 87.37,44.53 92.4,44.4C97.43,44.27 103.32,44.32 105.5,44.3" fill="none" stroke="#000" stroke-width="0.4" stroke-linejoin="round"/><path d="M15.5,34.2C17.5,34.27 23.33,34.25 27.5,34.6C31.67,34.95 36.67,35.6 40.5,36.3C44.33,37 46.83,37.95 50.5,38.8C54.17,39.65 58.5,41.07 62.5,41.4C66.5,41.73 70.67,41.1 74.5,40.8C78.33,40.5 80.33,39.88 85.5,39.6C90.67,39.32 102.17,39.18 105.5,39.1" fill="none" stroke="#000" stroke-width="0.4" stroke-linejoin="round"/><path d="M15.5,23.8C17.67,24.13 25.17,24.8 28.5,25.8C31.83,26.8 33.17,28.8 35.5,29.8C37.83,30.8 40.33,31.13 42.5,31.8C44.67,32.47 46.17,32.88 48.5,33.8C50.83,34.72 54.17,36.63 56.5,37.3C58.83,37.97 60.67,38.38 62.5,37.8C64.33,37.22 65.83,34.55 67.5,33.8C69.17,33.05 71,33.05 72.5,33.3C74,33.55 74.83,34.8 76.5,35.3C78.17,35.8 80.17,36.38 82.5,36.3C84.83,36.22 88.17,35.38 90.5,34.8C92.83,34.22 94,33.13 96.5,32.8C99,32.47 104,32.8 105.5,32.8" fill="none" stroke="#000" stroke-width="0.4" stroke-linejoin="round"/><path d="M64.5,20.8C64.92,21.63 65.83,24.47 67,25.8C68.17,27.13 69.92,28.22 71.5,28.8C73.08,29.38 74.83,29.38 76.5,29.3C78.17,29.22 79.83,28.22 81.5,28.3C83.17,28.38 84.83,29.63 86.5,29.8C88.17,29.97 89.83,29.63 91.5,29.3C93.17,28.97 94.17,28.13 96.5,27.8C98.83,27.47 104,27.38 105.5,27.3" fill="none" stroke="#000" stroke-width="0.4" stroke-linejoin="round"/><path d="M30.5,20.8C30.83,21.05 31.33,21.88 32.5,22.3C33.67,22.72 36,23.47 37.5,23.3C39,23.13 40.67,22.22 41.5,21.3C42.33,20.38 42.33,18.38 42.5,17.8" fill="none" stroke="#000" stroke-width="1.2" stroke-linejoin="round"/><path d="M54.3,30.8C54.55,30.1 55.97,29.72 57,29.6C58.03,29.48 59.75,29.65 60.5,30.1C61.25,30.55 61.75,31.63 61.5,32.3C61.25,32.97 60,33.85 59,34.1C58,34.35 56.28,34.35 55.5,33.8C54.72,33.25 54.05,31.5 54.3,30.8Z" fill="none" stroke="#000" stroke-width="1.1" stroke-linejoin="round"/><path d="M80,33.1C80.33,32.73 82.33,32.15 83.5,32.1C84.67,32.05 86.75,32.45 87,32.8C87.25,33.15 85.92,33.95 85,34.2C84.08,34.45 82.33,34.48 81.5,34.3C80.67,34.12 79.67,33.47 80,33.1Z" fill="none" stroke="#000" stroke-width="0.5" stroke-linejoin="round"/></g><path d="M79.4,82.4C79.4,82.83 79.23,83.34 78.98,83.69C78.73,84.04 78.29,84.36 77.88,84.49C77.47,84.63 76.93,84.63 76.52,84.49C76.11,84.36 75.67,84.04 75.42,83.69C75.17,83.34 75,82.83 75,82.4C75,81.97 75.17,81.46 75.42,81.11C75.67,80.76 76.11,80.44 76.52,80.31C76.93,80.17 77.47,80.17 77.88,80.31C78.29,80.44 78.73,80.76 78.98,81.11C79.23,81.46 79.4,81.97 79.4,82.4Z" fill="#0000aa"/><path d="M86.4,84.5C86.12,83.5 86.87,82.13 87.3,82C87.73,81.87 88.43,83 89,83.7C89.57,84.4 89.85,85.78 90.7,86.2C91.55,86.62 92.67,85.77 94.1,86.2C95.53,86.63 97.87,87.93 99.3,88.8C100.73,89.67 102,90.4 102.7,91.4C103.4,92.4 103.78,93.95 103.5,94.8C103.22,95.65 101.98,96.5 101,96.5C100.02,96.5 98.75,95.37 97.6,94.8C96.45,94.23 95.1,93.67 94.1,93.1C93.1,92.53 92.45,92.25 91.6,91.4C90.75,90.55 89.87,89.15 89,88C88.13,86.85 86.68,85.5 86.4,84.5Z" fill="#0000aa"/></g>
<use href="#landf"/>
<g clip-path="url(#lc)"><use href="#grd"/></g>
<use href="#coast"/>
</g>
<path d="M32.92,16.52 A161.4 161.4 0 0 0 91.48,16.52 L106.92,100.21 A246.51 246.51 0 0 1 17.48,100.21 Z" fill="none" stroke="#222" stroke-width="1.15"/>
<g font-size="3.9" fill="#1a1a1a"><text x="15.08" y="102.61" text-anchor="end" font-size="4.15">69<tspan dy="-1.1" font-size="2.7">°</tspan><tspan dy="1.1"> N</tspan></text><text x="16.71" y="93.76" text-anchor="end" font-size="4.15">70<tspan dy="-1.1" font-size="2.7">°</tspan><tspan dy="1.1"> N</tspan></text><text x="18.36" y="84.82" text-anchor="end" font-size="4.15">71<tspan dy="-1.1" font-size="2.7">°</tspan><tspan dy="1.1"> N</tspan></text><text x="20.03" y="75.78" text-anchor="end" font-size="4.15">72<tspan dy="-1.1" font-size="2.7">°</tspan><tspan dy="1.1"> N</tspan></text><text x="21.72" y="66.63" text-anchor="end" font-size="4.15">73<tspan dy="-1.1" font-size="2.7">°</tspan><tspan dy="1.1"> N</tspan></text><text x="23.43" y="57.37" text-anchor="end" font-size="4.15">74<tspan dy="-1.1" font-size="2.7">°</tspan><tspan dy="1.1"> N</tspan></text><text x="25.16" y="47.98" text-anchor="end" font-size="4.15">75<tspan dy="-1.1" font-size="2.7">°</tspan><tspan dy="1.1"> N</tspan></text><text x="26.91" y="38.46" text-anchor="end" font-size="4.15">76<tspan dy="-1.1" font-size="2.7">°</tspan><tspan dy="1.1"> N</tspan></text><text x="28.7" y="28.78" text-anchor="end" font-size="4.15">77<tspan dy="-1.1" font-size="2.7">°</tspan><tspan dy="1.1"> N</tspan></text><text x="30.52" y="18.92" text-anchor="end" font-size="4.15">78<tspan dy="-1.1" font-size="2.7">°</tspan><tspan dy="1.1"> N</tspan></text><text x="18.08" y="112.01" text-anchor="middle" font-size="4.2">8<tspan dy="-1.2" font-size="2.8">°</tspan><tspan dy="1.2" dx="0.3"> E</tspan></text><text x="30.77" y="114.02" text-anchor="middle" font-size="4.2">12<tspan dy="-1.2" font-size="2.8">°</tspan><tspan dy="1.2" dx="0.3"> E</tspan></text><text x="43.55" y="115.35" text-anchor="middle" font-size="4.2">16<tspan dy="-1.2" font-size="2.8">°</tspan><tspan dy="1.2" dx="0.3"> E</tspan></text><text x="56.38" y="116.02" text-anchor="middle" font-size="4.2">20<tspan dy="-1.2" font-size="2.8">°</tspan><tspan dy="1.2" dx="0.3"> E</tspan></text><text x="69.22" y="116.02" text-anchor="middle" font-size="4.2">24<tspan dy="-1.2" font-size="2.8">°</tspan><tspan dy="1.2" dx="0.3"> E</tspan></text><text x="82.05" y="115.35" text-anchor="middle" font-size="4.2">28<tspan dy="-1.2" font-size="2.8">°</tspan><tspan dy="1.2" dx="0.3"> E</tspan></text><text x="94.83" y="114.02" text-anchor="middle" font-size="4.2">32<tspan dy="-1.2" font-size="2.8">°</tspan><tspan dy="1.2" dx="0.3"> E</tspan></text><text x="107.52" y="112.01" text-anchor="middle" font-size="4.2">36<tspan dy="-1.2" font-size="2.8">°</tspan><tspan dy="1.2" dx="0.3"> E</tspan></text></g>
</g>
<g transform="translate(434.25,238.2)">
<text x="62.2" y="7.7" text-anchor="middle" font-size="5.5" font-weight="bold" fill="#111">December 2000-2009</text>
<g clip-path="url(#fc)">
<use href="#grd"/>
<mask id="m23" maskUnits="userSpaceOnUse" x="-50" y="-50" width="200" height="200"><rect x="-50" y="-50" width="200" height="200" fill="#fff"/><path d="M17.75,85.8 23.45,86.2 27.75,80.3 32.85,76 35.45,78.6 37.95,76 41.35,81.1 42.25,85.4 48.25,86.2 51.65,88 49.95,91.4 45.65,93.9 41.35,96.5 39.65,99.1 39.75,106.8 10.75,106.8 10.75,85.8Z" fill="#000"/></mask><g clip-path="url(#dc)"><g mask="url(#m23)"><path d="M10.75,6.8 115.75,6.8 115.75,121.8 10.75,121.8Z" fill="#0000aa"/><path d="M15.75,56.3C17.75,63.72 23.48,55.58 27.75,56.3C32.02,57.02 36.23,58.45 41.35,60.6C46.47,62.75 52.75,67.63 58.45,69.2C64.15,70.77 69.85,70.3 75.55,70C81.25,69.7 87.62,68.12 92.65,67.4C97.68,66.68 103.57,74.97 105.75,65.7C107.93,56.43 120.75,20.78 105.75,11.8C90.75,2.82 30.75,4.38 15.75,11.8C0.75,19.22 13.75,48.88 15.75,56.3Z" fill="#0000ff"/><path d="M15.75,50.3C17.75,56.72 23.48,50 27.75,50.3C32.02,50.6 36.23,50.67 41.35,52.1C46.47,53.53 52.75,57.48 58.45,58.9C64.15,60.32 69.85,60.88 75.55,60.6C81.25,60.32 87.62,57.83 92.65,57.2C97.68,56.57 103.57,61.28 105.75,56.8C107.93,52.32 108.08,34.72 105.75,30.3C103.42,25.88 95.92,30.38 91.75,30.3C87.58,30.22 84.25,30.05 80.75,29.8C77.25,29.55 73.25,29.8 70.75,28.8C68.25,27.8 66.75,26.63 65.75,23.8C64.75,20.97 73.08,13.8 64.75,11.8C56.42,9.8 23.92,5.38 15.75,11.8C7.58,18.22 13.75,43.88 15.75,50.3Z" fill="#0038ff"/><path d="M53.75,19.8C54.33,18.97 56.25,20.47 57.75,20.8C59.25,21.13 61.67,20.97 62.75,21.8C63.83,22.63 64.25,24.55 64.25,25.8C64.25,27.05 63.83,28.88 62.75,29.3C61.67,29.72 59.17,28.88 57.75,28.3C56.33,27.72 54.92,27.22 54.25,25.8C53.58,24.38 53.17,20.63 53.75,19.8Z" fill="#0010e0"/><path d="M62.75,27.8C63.08,26.47 64.75,26.47 65.75,26.8C66.75,27.13 68.17,28.47 68.75,29.8C69.33,31.13 69.33,33.3 69.25,34.8C69.17,36.3 68.92,38.05 68.25,38.8C67.58,39.55 66,39.97 65.25,39.3C64.5,38.63 64.17,36.72 63.75,34.8C63.33,32.88 62.42,29.13 62.75,27.8Z" fill="#0070ff"/><path d="M15.75,36.3C18.33,40.38 28.07,35.93 31.25,36.3C34.43,36.67 33.5,37.67 34.85,38.5C36.2,39.33 37.98,40.68 39.35,41.3C40.72,41.92 41.68,42.37 43.05,42.2C44.42,42.03 46.35,40.92 47.55,40.3C48.75,39.68 49.48,39.25 50.25,38.5C51.02,37.75 51.98,37.17 52.15,35.8C52.32,34.43 51.65,32.3 51.25,30.3C50.85,28.3 50.33,26.88 49.75,23.8C49.17,20.72 53.42,13.8 47.75,11.8C42.08,9.8 21.08,7.72 15.75,11.8C10.42,15.88 13.17,32.22 15.75,36.3Z" fill="#00b4ff"/><path d="M65.75,51.8C64.58,50.47 67.58,46.13 68.75,43.8C69.92,41.47 71.42,39.63 72.75,37.8C74.08,35.97 74.92,34 76.75,32.8C78.58,31.6 80.92,31.02 83.75,30.6C86.58,30.18 90.08,30.35 93.75,30.3C97.42,30.25 103.75,27.05 105.75,30.3C107.75,33.55 108.25,46.47 105.75,49.8C103.25,53.13 95.75,49.97 90.75,50.3C85.75,50.63 79.92,51.55 75.75,51.8C71.58,52.05 66.92,53.13 65.75,51.8Z" fill="#0090ff"/><path d="M70.75,48.8C70.52,48.43 72.03,47.27 73.15,45.8C74.27,44.33 76.48,41.45 77.45,40C78.42,38.55 77.73,38.07 78.95,37.1C80.17,36.13 82.33,34.93 84.75,34.2C87.17,33.47 89.95,33.02 93.45,32.7C96.95,32.38 103.7,30.12 105.75,32.3C107.8,34.48 107.8,43.55 105.75,45.8C103.7,48.05 96.7,45.68 93.45,45.8C90.2,45.92 89.4,46.13 86.25,46.5C83.1,46.87 77.13,47.62 74.55,48C71.97,48.38 70.98,49.17 70.75,48.8Z" fill="#10c0ff"/><path d="M15.75,16.8C20.75,14.3 40.75,16.05 45.75,16.8C50.75,17.55 45.83,19.97 45.75,21.3C45.67,22.63 45.33,23.13 45.25,24.8C45.17,26.47 45.47,30 45.25,31.3C45.03,32.6 45.23,32.45 43.95,32.6C42.67,32.75 39.37,32.35 37.55,32.2C35.73,32.05 36.68,31.77 33.05,31.7C29.42,31.63 18.63,34.28 15.75,31.8C12.87,29.32 10.75,19.3 15.75,16.8Z" fill="#00e0f0"/><path d="M15.75,16.8C20.08,15.05 37.5,15.97 41.75,16.8C46,17.63 41.5,20 41.25,21.8C41,23.6 41.17,26.57 40.25,27.6C39.33,28.63 37,28.05 35.75,28C34.5,27.95 36.08,27.42 32.75,27.3C29.42,27.18 18.58,29.05 15.75,27.3C12.92,25.55 11.42,18.55 15.75,16.8Z" fill="#40f090"/><path d="M15.75,16.8C19.42,15.72 34.12,16.17 37.75,16.8C41.38,17.43 37.97,19.55 37.55,20.6C37.13,21.65 36,22.65 35.25,23.1C34.5,23.55 36.3,23.27 33.05,23.3C29.8,23.33 18.63,24.38 15.75,23.3C12.87,22.22 12.08,17.88 15.75,16.8Z" fill="#b0ff40"/><path d="M64.75,11.8C58.08,13.8 64.75,21.05 65.75,23.8C66.75,26.55 68.25,27.38 70.75,28.3C73.25,29.22 77.25,29.05 80.75,29.3C84.25,29.55 87.58,29.72 91.75,29.8C95.92,29.88 103.42,32.8 105.75,29.8C108.08,26.8 112.58,14.8 105.75,11.8C98.92,8.8 71.42,9.8 64.75,11.8Z" fill="#0000cc"/><path d="M68.75,19.3C71.25,18.38 81.75,18.63 85.75,18.8C89.75,18.97 91.75,19.3 92.75,20.3C93.75,21.3 93.75,23.88 91.75,24.8C89.75,25.72 84.25,25.88 80.75,25.8C77.25,25.72 72.75,25.38 70.75,24.3C68.75,23.22 66.25,20.22 68.75,19.3Z" fill="#0000aa"/><path d="M15.75,36.3C18.33,36.3 28.07,35.93 31.25,36.3C34.43,36.67 33.5,37.67 34.85,38.5C36.2,39.33 37.98,40.68 39.35,41.3C40.72,41.92 41.68,42.37 43.05,42.2C44.42,42.03 46.35,40.92 47.55,40.3C48.75,39.68 49.48,39.25 50.25,38.5C51.02,37.75 51.98,37.17 52.15,35.8C52.32,34.43 51.4,31.22 51.25,30.3" fill="none" stroke="#000" stroke-width="1.2" stroke-linejoin="round"/><path d="M70.75,48.8C70.52,48.43 72.03,47.27 73.15,45.8C74.27,44.33 76.48,41.45 77.45,40C78.42,38.55 77.73,38.07 78.95,37.1C80.17,36.13 82.33,34.93 84.75,34.2C87.17,33.47 89.95,33.02 93.45,32.7C96.95,32.38 103.7,30.12 105.75,32.3C107.8,34.48 107.8,43.55 105.75,45.8C103.7,48.05 96.7,45.68 93.45,45.8C90.2,45.92 89.4,46.13 86.25,46.5C83.1,46.87 77.13,47.62 74.55,48C71.97,48.38 70.98,49.17 70.75,48.8Z" fill="none" stroke="#000" stroke-width="1.2" stroke-linejoin="round"/><path d="M15.75,56.3C17.75,56.3 23.48,55.58 27.75,56.3C32.02,57.02 36.23,58.45 41.35,60.6C46.47,62.75 52.75,67.63 58.45,69.2C64.15,70.77 69.85,70.3 75.55,70C81.25,69.7 87.62,68.12 92.65,67.4C97.68,66.68 103.57,65.98 105.75,65.7" fill="none" stroke="#000" stroke-width="0.4" stroke-linejoin="round"/><path d="M15.75,50.3C17.75,50.3 23.48,50 27.75,50.3C32.02,50.6 36.23,50.67 41.35,52.1C46.47,53.53 52.75,57.48 58.45,58.9C64.15,60.32 69.85,60.88 75.55,60.6C81.25,60.32 87.62,57.83 92.65,57.2C97.68,56.57 103.57,56.87 105.75,56.8" fill="none" stroke="#000" stroke-width="0.4" stroke-linejoin="round"/><path d="M65.75,23.8C66.58,24.55 68.25,27.38 70.75,28.3C73.25,29.22 77.25,29.05 80.75,29.3C84.25,29.55 87.58,29.72 91.75,29.8C95.92,29.88 103.42,29.8 105.75,29.8" fill="none" stroke="#000" stroke-width="0.4" stroke-linejoin="round"/><path d="M33.05,31.7C33.8,31.78 35.73,32.05 37.55,32.2C39.37,32.35 42.67,32.75 43.95,32.6C45.23,32.45 45.03,31.52 45.25,31.3" fill="none" stroke="#000" stroke-width="0.4" stroke-linejoin="round"/><path d="M62.75,27.8C63.08,26.47 64.75,26.47 65.75,26.8C66.75,27.13 68.17,28.47 68.75,29.8C69.33,31.13 69.33,33.3 69.25,34.8C69.17,36.3 68.92,38.05 68.25,38.8C67.58,39.55 66,39.97 65.25,39.3C64.5,38.63 64.17,36.72 63.75,34.8C63.33,32.88 62.42,29.13 62.75,27.8Z" fill="none" stroke="#000" stroke-width="0.4" stroke-linejoin="round"/></g></g>
<use href="#landf"/>
<g clip-path="url(#lc)"><use href="#grd"/></g>
<use href="#coast"/>
</g>
<path d="M32.92,16.52 A161.4 161.4 0 0 0 91.48,16.52 L106.92,100.21 A246.51 246.51 0 0 1 17.48,100.21 Z" fill="none" stroke="#222" stroke-width="1.15"/>
<g font-size="3.9" fill="#1a1a1a"><text x="15.08" y="102.61" text-anchor="end" font-size="4.15">69<tspan dy="-1.1" font-size="2.7">°</tspan><tspan dy="1.1"> N</tspan></text><text x="16.71" y="93.76" text-anchor="end" font-size="4.15">70<tspan dy="-1.1" font-size="2.7">°</tspan><tspan dy="1.1"> N</tspan></text><text x="18.36" y="84.82" text-anchor="end" font-size="4.15">71<tspan dy="-1.1" font-size="2.7">°</tspan><tspan dy="1.1"> N</tspan></text><text x="20.03" y="75.78" text-anchor="end" font-size="4.15">72<tspan dy="-1.1" font-size="2.7">°</tspan><tspan dy="1.1"> N</tspan></text><text x="21.72" y="66.63" text-anchor="end" font-size="4.15">73<tspan dy="-1.1" font-size="2.7">°</tspan><tspan dy="1.1"> N</tspan></text><text x="23.43" y="57.37" text-anchor="end" font-size="4.15">74<tspan dy="-1.1" font-size="2.7">°</tspan><tspan dy="1.1"> N</tspan></text><text x="25.16" y="47.98" text-anchor="end" font-size="4.15">75<tspan dy="-1.1" font-size="2.7">°</tspan><tspan dy="1.1"> N</tspan></text><text x="26.91" y="38.46" text-anchor="end" font-size="4.15">76<tspan dy="-1.1" font-size="2.7">°</tspan><tspan dy="1.1"> N</tspan></text><text x="28.7" y="28.78" text-anchor="end" font-size="4.15">77<tspan dy="-1.1" font-size="2.7">°</tspan><tspan dy="1.1"> N</tspan></text><text x="30.52" y="18.92" text-anchor="end" font-size="4.15">78<tspan dy="-1.1" font-size="2.7">°</tspan><tspan dy="1.1"> N</tspan></text><text x="18.08" y="112.01" text-anchor="middle" font-size="4.2">8<tspan dy="-1.2" font-size="2.8">°</tspan><tspan dy="1.2" dx="0.3"> E</tspan></text><text x="30.77" y="114.02" text-anchor="middle" font-size="4.2">12<tspan dy="-1.2" font-size="2.8">°</tspan><tspan dy="1.2" dx="0.3"> E</tspan></text><text x="43.55" y="115.35" text-anchor="middle" font-size="4.2">16<tspan dy="-1.2" font-size="2.8">°</tspan><tspan dy="1.2" dx="0.3"> E</tspan></text><text x="56.38" y="116.02" text-anchor="middle" font-size="4.2">20<tspan dy="-1.2" font-size="2.8">°</tspan><tspan dy="1.2" dx="0.3"> E</tspan></text><text x="69.22" y="116.02" text-anchor="middle" font-size="4.2">24<tspan dy="-1.2" font-size="2.8">°</tspan><tspan dy="1.2" dx="0.3"> E</tspan></text><text x="82.05" y="115.35" text-anchor="middle" font-size="4.2">28<tspan dy="-1.2" font-size="2.8">°</tspan><tspan dy="1.2" dx="0.3"> E</tspan></text><text x="94.83" y="114.02" text-anchor="middle" font-size="4.2">32<tspan dy="-1.2" font-size="2.8">°</tspan><tspan dy="1.2" dx="0.3"> E</tspan></text><text x="107.52" y="112.01" text-anchor="middle" font-size="4.2">36<tspan dy="-1.2" font-size="2.8">°</tspan><tspan dy="1.2" dx="0.3"> E</tspan></text></g>
</g>
<defs><linearGradient id="jetg" x1="0" x2="1" y1="0" y2="0"><stop offset="0" stop-color="#0000b8"/><stop offset="0.02" stop-color="#0000c1"/><stop offset="0.03" stop-color="#0000c9"/><stop offset="0.05" stop-color="#0000d2"/><stop offset="0.06" stop-color="#0000db"/><stop offset="0.08" stop-color="#0000e4"/><stop offset="0.09" stop-color="#0000ed"/><stop offset="0.11" stop-color="#0000f6"/><stop offset="0.12" stop-color="#0000ff"/><stop offset="0.14" stop-color="#0010ff"/><stop offset="0.16" stop-color="#0020ff"/><stop offset="0.17" stop-color="#0030ff"/><stop offset="0.19" stop-color="#0040ff"/><stop offset="0.2" stop-color="#0050ff"/><stop offset="0.22" stop-color="#0060ff"/><stop offset="0.23" stop-color="#0070ff"/><stop offset="0.25" stop-color="#0080ff"/><stop offset="0.27" stop-color="#008fff"/><stop offset="0.28" stop-color="#009fff"/><stop offset="0.3" stop-color="#00afff"/><stop offset="0.31" stop-color="#00bfff"/><stop offset="0.33" stop-color="#00cfff"/><stop offset="0.34" stop-color="#00dfff"/><stop offset="0.36" stop-color="#00efff"/><stop offset="0.38" stop-color="#00ffff"/><stop offset="0.39" stop-color="#10ffef"/><stop offset="0.41" stop-color="#20ffdf"/><stop offset="0.42" stop-color="#30ffcf"/><stop offset="0.44" stop-color="#40ffbf"/><stop offset="0.45" stop-color="#50ffaf"/><stop offset="0.47" stop-color="#60ff9f"/><stop offset="0.48" stop-color="#70ff8f"/><stop offset="0.5" stop-color="#80ff80"/><stop offset="0.52" stop-color="#8fff70"/><stop offset="0.53" stop-color="#9fff60"/><stop offset="0.55" stop-color="#afff50"/><stop offset="0.56" stop-color="#bfff40"/><stop offset="0.58" stop-color="#cfff30"/><stop offset="0.59" stop-color="#dfff20"/><stop offset="0.61" stop-color="#efff10"/><stop offset="0.62" stop-color="#ffff00"/><stop offset="0.64" stop-color="#ffef00"/><stop offset="0.66" stop-color="#ffdf00"/><stop offset="0.67" stop-color="#ffcf00"/><stop offset="0.69" stop-color="#ffbf00"/><stop offset="0.7" stop-color="#ffaf00"/><stop offset="0.72" stop-color="#ff9f00"/><stop offset="0.73" stop-color="#ff8f00"/><stop offset="0.75" stop-color="#ff8000"/><stop offset="0.77" stop-color="#ff7000"/><stop offset="0.78" stop-color="#ff6000"/><stop offset="0.8" stop-color="#ff5000"/><stop offset="0.81" stop-color="#ff4000"/><stop offset="0.83" stop-color="#ff3000"/><stop offset="0.84" stop-color="#ff2000"/><stop offset="0.86" stop-color="#ff1000"/><stop offset="0.88" stop-color="#ff0000"/><stop offset="0.89" stop-color="#ef0000"/><stop offset="0.91" stop-color="#df0000"/><stop offset="0.92" stop-color="#cf0000"/><stop offset="0.94" stop-color="#bf0000"/><stop offset="0.95" stop-color="#af0000"/><stop offset="0.97" stop-color="#9f0000"/><stop offset="0.98" stop-color="#8f0000"/><stop offset="1" stop-color="#800000"/></linearGradient></defs><rect x="133" y="361.2" width="288.8" height="10.3" fill="url(#jetg)" stroke="#222" stroke-width="0.5"/><path d="M219.21 361.2V371.5" stroke="#000" stroke-width="1.3"/><path d="M305.42 361.2V371.5" stroke="#000" stroke-width="1.3"/><text x="150.24" y="380.5" text-anchor="middle" font-size="5.6" fill="#333">2</text><text x="167.48" y="380.5" text-anchor="middle" font-size="5.6" fill="#333">4</text><text x="184.73" y="380.5" text-anchor="middle" font-size="5.6" fill="#333">6</text><text x="201.97" y="380.5" text-anchor="middle" font-size="5.6" fill="#333">8</text><text x="219.21" y="380.5" text-anchor="middle" font-size="5.6" fill="#333">10</text><text x="236.45" y="380.5" text-anchor="middle" font-size="5.6" fill="#333">12</text><text x="253.69" y="380.5" text-anchor="middle" font-size="5.6" fill="#333">14</text><text x="270.93" y="380.5" text-anchor="middle" font-size="5.6" fill="#333">16</text><text x="288.18" y="380.5" text-anchor="middle" font-size="5.6" fill="#333">18</text><text x="305.42" y="380.5" text-anchor="middle" font-size="5.6" fill="#333">20</text><text x="322.66" y="380.5" text-anchor="middle" font-size="5.6" fill="#333">22</text><text x="339.9" y="380.5" text-anchor="middle" font-size="5.6" fill="#333">24</text><text x="357.14" y="380.5" text-anchor="middle" font-size="5.6" fill="#333">26</text><text x="374.39" y="380.5" text-anchor="middle" font-size="5.6" fill="#333">28</text><text x="391.63" y="380.5" text-anchor="middle" font-size="5.6" fill="#333">30</text><text x="408.87" y="380.5" text-anchor="middle" font-size="5.6" fill="#333">32</text><path d="M150.24 371.5v-1M167.48 371.5v-1M184.73 371.5v-1M201.97 371.5v-1M219.21 371.5v-1M236.45 371.5v-1M253.69 371.5v-1M270.93 371.5v-1M288.18 371.5v-1M305.42 371.5v-1M322.66 371.5v-1M339.9 371.5v-1M357.14 371.5v-1M374.39 371.5v-1M391.63 371.5v-1M408.87 371.5v-1" stroke="#222" stroke-width="0.4"/><text x="277.6" y="388.3" text-anchor="middle" font-size="5.9" fill="#333">3-hourly Frequency of Moderate/Severe Icing, %</text>
</svg></body></html>
